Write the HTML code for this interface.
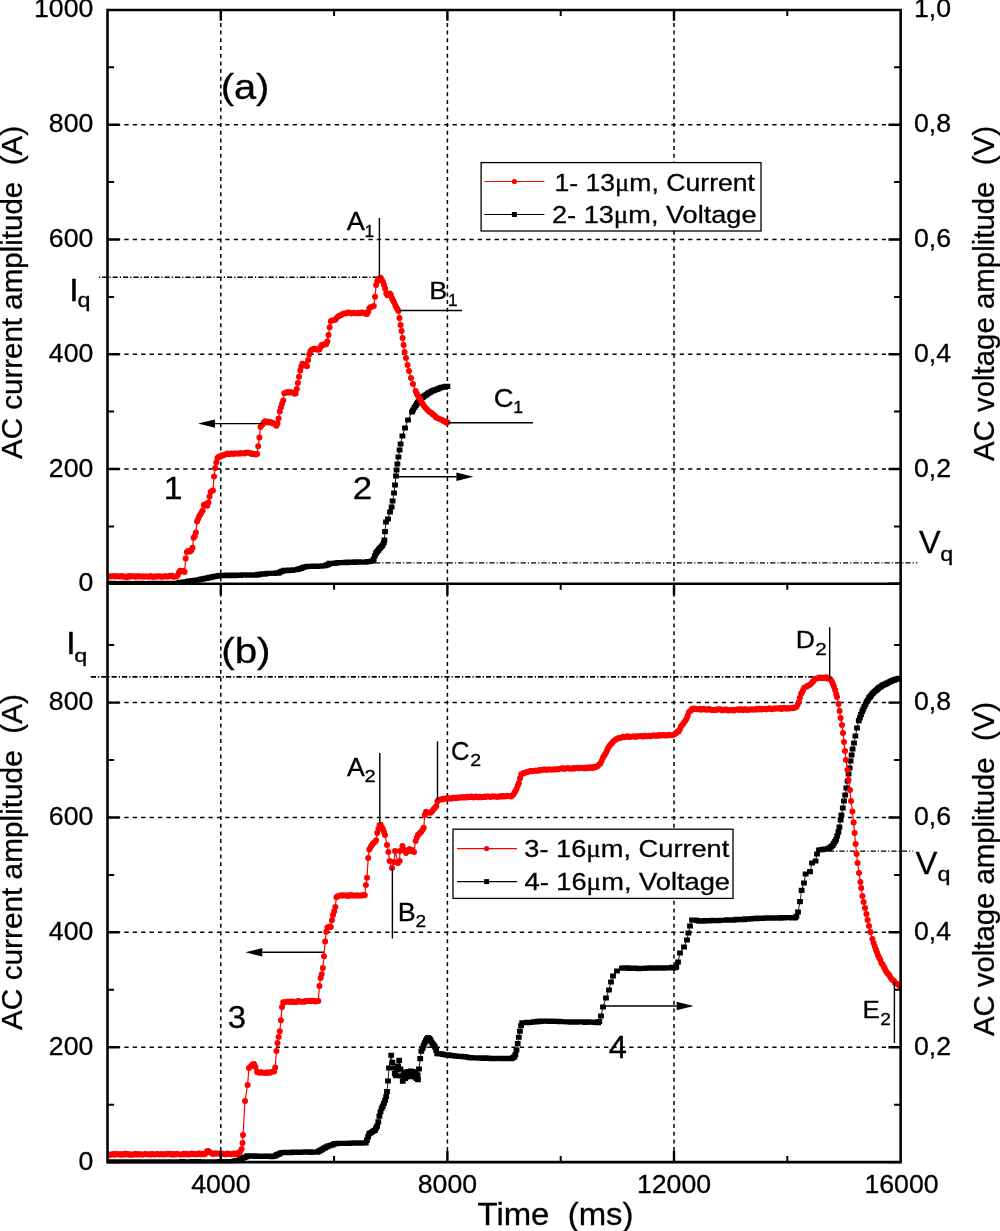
<!DOCTYPE html>
<html lang="en"><head><meta charset="utf-8"><title>AC current and voltage amplitude vs time</title>
<style>html,body{margin:0;padding:0;background:#fff}svg{display:block}text{font-family:"Liberation Sans",Arial,Helvetica,sans-serif;fill:#000;stroke:#000;stroke-width:.3px;white-space:pre}</style></head>
<body>
<svg width="1000" height="1231" viewBox="0 0 1000 1231">
<rect width="1000" height="1231" fill="#fff"/>
<path d="M107.5 469H900.65M107.5 1047.2H900.65M107.5 354.3H900.65M107.5 932.3H900.65M107.5 239.5H900.65M107.5 817.5H900.65M107.5 124.7H900.65M107.5 702.6H900.65" stroke="#000" stroke-width="1.5" stroke-dasharray="4.3 4.115" fill="none"/>
<path d="M220.8 9.95V1162.1M447.4 9.95V1162.1M674 9.95V1162.1" stroke="#000" stroke-width="1.5" stroke-dasharray="4 3.7" stroke-dashoffset="2.45" fill="none"/>
<path d="M97 277.2H378" stroke="#000" stroke-dasharray="5.2 2 1.2 2" fill="none" stroke-width="1.6" stroke-dashoffset="5.2"/>
<path d="M375 562.8H917.3" stroke="#000" stroke-dasharray="5.2 2 1.2 2" fill="none" stroke-width="1.25"/>
<path d="M90.8 676.9H819" stroke="#000" stroke-dasharray="5.2 2 1.2 2" fill="none" stroke-width="1.6"/>
<path d="M829 851.1H913" stroke="#000" stroke-dasharray="5.2 2 1.2 2" fill="none" stroke-width="1.25"/>
<clipPath id="ca"><rect x="107.5" y="9.95" width="794.35" height="575.0999999999999"/></clipPath><clipPath id="cb"><rect x="107.5" y="583.8" width="794.35" height="579.55"/></clipPath>
<g clip-path="url(#ca)">
<path d="M107.4 583.7 L108.5 583.8 L109.7 583.4 L110.8 583.6 L111.9 583.5 L113.1 583.4 L114.2 583.5 L115.3 583.6 L116.5 583.6 L117.6 583.7 L118.7 583.6 L119.9 583.8 L121 583.5 L122.1 583.9 L123.3 583.4 L124.4 583.8 L125.5 583.6 L126.7 583.7 L127.8 583.4 L128.9 583.5 L130.1 583.8 L131.2 583.9 L132.3 583.5 L133.5 583.7 L134.6 583.8 L135.7 583.9 L136.9 583.4 L138 583.3 L139.1 583.4 L140.3 583.8 L141.4 583.4 L142.5 583.5 L143.7 583.9 L144.8 583.6 L145.9 583.7 L147.1 583.5 L148.2 583.7 L149.3 583.8 L150.5 583.3 L151.6 583.7 L152.7 583.9 L153.9 583.7 L155 583.4 L156.1 583.7 L157.3 583.3 L158.4 583.5 L159.5 583.8 L160.7 583.4 L161.8 583.4 L162.9 583.3 L164.1 583.2 L165.2 583.6 L166.3 583.4 L167.5 583.4 L168.6 583.5 L169.7 583.2 L170.9 583.6 L172 583.3 L173.1 583.6 L174.3 583.6 L175.4 583.2 L176.5 583.2 L177.7 583.2 L178.8 582.8 L179.9 582.4 L181.1 582.5 L182.2 582.4 L183.3 582.1 L184.5 582.2 L185.6 581.8 L186.7 581.8 L187.9 581.2 L189 581 L190.1 581.2 L191.3 580.8 L192.4 580.5 L193.5 580.8 L194.7 580.2 L195.8 580.3 L196.9 580.1 L198.1 580 L199.2 579.7 L200.3 579.6 L201.5 579.1 L202.6 578.8 L203.7 579 L204.9 578.4 L206 578.5 L207.1 578.1 L208.3 577.9 L209.4 577.3 L210.5 577.6 L211.7 577 L212.8 576.9 L213.9 576.6 L215.1 576.3 L216.2 576.5 L217.3 576 L218.5 575.5 L219.6 575.6 L220.7 575.4 L221.9 575.5 L223 575.7 L224.1 575.4 L225.3 575.7 L226.4 575.5 L227.5 575.1 L228.7 575.6 L229.8 575.5 L230.9 575.6 L232.1 575.1 L233.2 575.1 L234.3 575.6 L235.5 575.4 L236.6 575 L237.7 575.4 L238.9 575.4 L240 575.5 L241.1 575.3 L242.3 575 L243.4 574.9 L244.5 574.9 L245.7 574.9 L246.8 575 L247.9 575.3 L249.1 575.1 L250.2 575.1 L251.3 575.3 L252.5 574.8 L253.6 574.9 L254.7 575.1 L255.9 575.3 L257 574.9 L258.1 574.4 L259.3 574.6 L260.4 574.1 L261.5 574.3 L262.7 573.9 L263.8 574.1 L264.9 574 L266.1 573.8 L267.2 573.5 L268.3 573.3 L269.5 573.3 L270.6 573.2 L271.7 573.2 L272.9 573.2 L274 573.4 L275.1 573.2 L276.3 572.8 L277.4 572.8 L278.5 573.1 L279.7 572.3 L280.8 571.7 L281.9 571.2 L283.1 571 L284.2 570.3 L285.3 570.5 L286.5 570.7 L287.6 570.6 L288.7 570.1 L289.9 570.3 L291 570.3 L292.1 570.4 L293.3 569.9 L294.4 569.8 L295.5 569.8 L296.7 569.8 L297.8 569.4 L298.9 569 L300.1 568.5 L301.2 568.5 L302.3 567.8 L303.5 567.3 L304.6 567 L305.7 566.7 L306.9 566.6 L308 566.3 L309.1 566.2 L310.3 566.3 L311.4 566.4 L312.5 566.1 L313.7 566.4 L314.8 566 L315.9 566.1 L317.1 566.4 L318.2 566 L319.3 566.2 L320.5 566.1 L321.6 566.3 L322.7 565.9 L323.9 565.7 L325 565.7 L326.1 565.3 L327.3 564.9 L328.4 564.4 L329.5 563.4 L330.7 563.3 L331.8 563.4 L332.9 563.5 L334.1 563.4 L335.2 563 L336.3 563.1 L337.5 562.8 L338.6 562.6 L339.7 562.5 L340.9 562.5 L342 562.5 L343.1 562.7 L344.3 562.7 L345.4 562.3 L346.5 562.6 L347.7 562.1 L348.8 562.1 L349.9 562.1 L351.1 562.3 L352.2 562 L353.3 562.5 L354.5 562.4 L355.6 561.9 L356.7 562 L357.9 562 L359 561.9 L360.1 562.3 L361.3 562 L362.4 562.3 L363.5 562.1 L364.7 562.2 L365.8 562 L366.9 561.9 L368.1 561.5 L369.2 561.5 L370.3 561.5 L371.5 561 L372.6 561 L373.7 559.1 L374.9 555.8 L376 553.1 L377.1 551.6 L378.3 550.4 L379.4 548.6 L380.5 547.7 L381.7 546.2 L382.8 544.7 L383.9 542.5 L384.4 540 L385 531.6 L386 522 L388 519 L390 512 L391.6 507 L392.6 501 L394 493 L395 485 L396 476 L396.6 470 L397.4 464 L398.4 457 L399.6 450 L400.6 444 L402.4 436 L405 428 L408 420 L412 412 L413 410 L414.5 407.5 L415.7 405.8 L416.8 403.9 L417.9 402.4 L419.1 401 L420.2 399.6 L421.3 398.6 L422.5 397.4 L423.6 396.6 L424.7 395.8 L425.9 395.1 L427 394.2 L428.1 393.3 L429.3 392.6 L430.4 392.2 L431.5 391.3 L432.7 390.9 L433.8 390.4 L434.9 390 L436.1 389.5 L437.2 389.2 L438.3 388.7 L439.5 388.2 L440.6 387.8 L441.7 387.3 L442.9 387.3 L444 386.8 L445.1 387.1 L446.3 386.3 L447.4 386.4" fill="none" stroke="#000" stroke-width="0.9" stroke-linejoin="round"/>
<path d="M104.5 583.7h5.8M105.6 583.8h5.8M106.8 583.4h5.8M107.9 583.6h5.8M109 583.5h5.8M110.2 583.4h5.8M111.3 583.5h5.8M112.4 583.6h5.8M113.6 583.6h5.8M114.7 583.7h5.8M115.8 583.6h5.8M117 583.8h5.8M118.1 583.5h5.8M119.2 583.9h5.8M120.4 583.4h5.8M121.5 583.8h5.8M122.6 583.6h5.8M123.8 583.7h5.8M124.9 583.4h5.8M126 583.5h5.8M127.2 583.8h5.8M128.3 583.9h5.8M129.4 583.5h5.8M130.6 583.7h5.8M131.7 583.8h5.8M132.8 583.9h5.8M134 583.4h5.8M135.1 583.3h5.8M136.2 583.4h5.8M137.4 583.8h5.8M138.5 583.4h5.8M139.6 583.5h5.8M140.8 583.9h5.8M141.9 583.6h5.8M143 583.7h5.8M144.2 583.5h5.8M145.3 583.7h5.8M146.4 583.8h5.8M147.6 583.3h5.8M148.7 583.7h5.8M149.8 583.9h5.8M151 583.7h5.8M152.1 583.4h5.8M153.2 583.7h5.8M154.4 583.3h5.8M155.5 583.5h5.8M156.6 583.8h5.8M157.8 583.4h5.8M158.9 583.4h5.8M160 583.3h5.8M161.2 583.2h5.8M162.3 583.6h5.8M163.4 583.4h5.8M164.6 583.4h5.8M165.7 583.5h5.8M166.8 583.2h5.8M168 583.6h5.8M169.1 583.3h5.8M170.2 583.6h5.8M171.4 583.6h5.8M172.5 583.2h5.8M173.6 583.2h5.8M174.8 583.2h5.8M175.9 582.8h5.8M177 582.4h5.8M178.2 582.5h5.8M179.3 582.4h5.8M180.4 582.1h5.8M181.6 582.2h5.8M182.7 581.8h5.8M183.8 581.8h5.8M185 581.2h5.8M186.1 581h5.8M187.2 581.2h5.8M188.4 580.8h5.8M189.5 580.5h5.8M190.6 580.8h5.8M191.8 580.2h5.8M192.9 580.3h5.8M194 580.1h5.8M195.2 580h5.8M196.3 579.7h5.8M197.4 579.6h5.8M198.6 579.1h5.8M199.7 578.8h5.8M200.8 579h5.8M202 578.4h5.8M203.1 578.5h5.8M204.2 578.1h5.8M205.4 577.9h5.8M206.5 577.3h5.8M207.6 577.6h5.8M208.8 577h5.8M209.9 576.9h5.8M211 576.6h5.8M212.2 576.3h5.8M213.3 576.5h5.8M214.4 576h5.8M215.6 575.5h5.8M216.7 575.6h5.8M217.8 575.4h5.8M219 575.5h5.8M220.1 575.7h5.8M221.2 575.4h5.8M222.4 575.7h5.8M223.5 575.5h5.8M224.6 575.1h5.8M225.8 575.6h5.8M226.9 575.5h5.8M228 575.6h5.8M229.2 575.1h5.8M230.3 575.1h5.8M231.4 575.6h5.8M232.6 575.4h5.8M233.7 575h5.8M234.8 575.4h5.8M236 575.4h5.8M237.1 575.5h5.8M238.2 575.3h5.8M239.4 575h5.8M240.5 574.9h5.8M241.6 574.9h5.8M242.8 574.9h5.8M243.9 575h5.8M245 575.3h5.8M246.2 575.1h5.8M247.3 575.1h5.8M248.4 575.3h5.8M249.6 574.8h5.8M250.7 574.9h5.8M251.8 575.1h5.8M253 575.3h5.8M254.1 574.9h5.8M255.2 574.4h5.8M256.4 574.6h5.8M257.5 574.1h5.8M258.6 574.3h5.8M259.8 573.9h5.8M260.9 574.1h5.8M262 574h5.8M263.2 573.8h5.8M264.3 573.5h5.8M265.4 573.3h5.8M266.6 573.3h5.8M267.7 573.2h5.8M268.8 573.2h5.8M270 573.2h5.8M271.1 573.4h5.8M272.2 573.2h5.8M273.4 572.8h5.8M274.5 572.8h5.8M275.6 573.1h5.8M276.8 572.3h5.8M277.9 571.7h5.8M279 571.2h5.8M280.2 571h5.8M281.3 570.3h5.8M282.4 570.5h5.8M283.6 570.7h5.8M284.7 570.6h5.8M285.8 570.1h5.8M287 570.3h5.8M288.1 570.3h5.8M289.2 570.4h5.8M290.4 569.9h5.8M291.5 569.8h5.8M292.6 569.8h5.8M293.8 569.8h5.8M294.9 569.4h5.8M296 569h5.8M297.2 568.5h5.8M298.3 568.5h5.8M299.4 567.8h5.8M300.6 567.3h5.8M301.7 567h5.8M302.8 566.7h5.8M304 566.6h5.8M305.1 566.3h5.8M306.2 566.2h5.8M307.4 566.3h5.8M308.5 566.4h5.8M309.6 566.1h5.8M310.8 566.4h5.8M311.9 566h5.8M313 566.1h5.8M314.2 566.4h5.8M315.3 566h5.8M316.4 566.2h5.8M317.6 566.1h5.8M318.7 566.3h5.8M319.8 565.9h5.8M321 565.7h5.8M322.1 565.7h5.8M323.2 565.3h5.8M324.4 564.9h5.8M325.5 564.4h5.8M326.6 563.4h5.8M327.8 563.3h5.8M328.9 563.4h5.8M330 563.5h5.8M331.2 563.4h5.8M332.3 563h5.8M333.4 563.1h5.8M334.6 562.8h5.8M335.7 562.6h5.8M336.8 562.5h5.8M338 562.5h5.8M339.1 562.5h5.8M340.2 562.7h5.8M341.4 562.7h5.8M342.5 562.3h5.8M343.6 562.6h5.8M344.8 562.1h5.8M345.9 562.1h5.8M347 562.1h5.8M348.2 562.3h5.8M349.3 562h5.8M350.4 562.5h5.8M351.6 562.4h5.8M352.7 561.9h5.8M353.8 562h5.8M355 562h5.8M356.1 561.9h5.8M357.2 562.3h5.8M358.4 562h5.8M359.5 562.3h5.8M360.6 562.1h5.8M361.8 562.2h5.8M362.9 562h5.8M364 561.9h5.8M365.2 561.5h5.8M366.3 561.5h5.8M367.4 561.5h5.8M368.6 561h5.8M369.7 561h5.8M370.8 559.1h5.8M372 555.8h5.8M373.1 553.1h5.8M374.2 551.6h5.8M375.4 550.4h5.8M376.5 548.6h5.8M377.6 547.7h5.8M378.8 546.2h5.8M379.9 544.7h5.8M381 542.5h5.8M381.5 540h5.8M382.1 531.6h5.8M383.1 522h5.8M385.1 519h5.8M387.1 512h5.8M388.7 507h5.8M389.7 501h5.8M391.1 493h5.8M392.1 485h5.8M393.1 476h5.8M393.7 470h5.8M394.5 464h5.8M395.5 457h5.8M396.7 450h5.8M397.7 444h5.8M399.5 436h5.8M402.1 428h5.8M405.1 420h5.8M409.1 412h5.8M410.1 410h5.8M411.6 407.5h5.8M412.8 405.8h5.8M413.9 403.9h5.8M415 402.4h5.8M416.2 401h5.8M417.3 399.6h5.8M418.4 398.6h5.8M419.6 397.4h5.8M420.7 396.6h5.8M421.8 395.8h5.8M423 395.1h5.8M424.1 394.2h5.8M425.2 393.3h5.8M426.4 392.6h5.8M427.5 392.2h5.8M428.6 391.3h5.8M429.8 390.9h5.8M430.9 390.4h5.8M432 390h5.8M433.2 389.5h5.8M434.3 389.2h5.8M435.4 388.7h5.8M436.6 388.2h5.8M437.7 387.8h5.8M438.8 387.3h5.8M440 387.3h5.8M441.1 386.8h5.8M442.2 387.1h5.8M443.4 386.3h5.8M444.5 386.4h5.8" fill="none" stroke="#000" stroke-width="5.1" stroke-linecap="butt"/>
<path d="M107.5 576.3 L108.6 575.9 L109.8 576.5 L110.9 576.4 L112 576.3 L113.2 576.3 L114.3 576.1 L115.4 576.6 L116.6 576.3 L117.7 576.2 L118.8 576.6 L120 576.5 L121.1 576.1 L122.2 576.5 L123.4 576.2 L124.5 576.8 L125.6 576.9 L126.8 576.5 L127.9 576.9 L129 576.1 L130.2 576.5 L131.3 576.1 L132.4 576.5 L133.6 576.2 L134.7 576.2 L135.8 576.7 L137 576.3 L138.1 576.2 L139.2 576.3 L140.4 576.4 L141.5 576.6 L142.6 576.3 L143.8 576.7 L144.9 576.5 L146 576.5 L147.2 576.4 L148.3 576.8 L149.4 576.6 L150.6 576.1 L151.7 576.7 L152.8 576.9 L154 576.4 L155.1 576.8 L156.2 576.3 L157.4 576.5 L158.5 576.3 L159.6 576.3 L160.8 576.7 L161.9 576.4 L163 576.8 L164.2 576.4 L165.3 575.9 L166.4 576.2 L167.6 576.7 L168.7 576.2 L169.8 575.8 L171 576 L172.1 575.8 L173.2 576.7 L174.4 576.7 L175.5 576.5 L176.6 576.3 L177.8 575.1 L178.9 572.6 L180 570.8 L181.2 571.2 L182.3 571.1 L183.4 571 L184.6 572 L185.7 558.4 L186.8 552 L188 551.1 L189.1 551.5 L190.2 551.5 L191.4 550.3 L192.5 547.8 L193.6 537.8 L194.8 536.3 L195.9 532.4 L197 521.5 L198.2 518.8 L199.3 515.9 L200.4 514.4 L201.6 512.3 L202.7 510.5 L203.8 504.9 L205 504.2 L206.1 504.9 L207.2 505.8 L208.4 502.6 L209.5 496.4 L210.6 491.9 L211.8 491 L212.9 490.6 L214 476.6 L215.2 468.1 L216.3 462.4 L217.4 457.9 L218.6 456.8 L219.7 456.9 L220.8 456.3 L222 455.2 L223.1 455.5 L224.2 455 L225.4 454.6 L226.5 454 L227.6 453.6 L228.8 454.3 L229.9 453.9 L231 453.6 L232.2 453.5 L233.3 454.1 L234.4 453.5 L235.6 453.6 L236.7 453.6 L237.8 453.8 L239 453.5 L240.1 453 L241.2 453.4 L242.4 453.2 L243.5 453.3 L244.6 453.4 L245.8 452.8 L246.9 452.7 L248 452.6 L249.2 453 L250.3 453 L251.4 453.9 L252.6 453.8 L253.7 454 L254.8 454.1 L256 454.6 L257.1 454 L258.2 446.2 L259.4 437.6 L260.5 427 L261.6 425.3 L262.8 424.3 L263.9 422.3 L265 421.3 L266.2 421.9 L267.3 421.5 L268.4 422.4 L269.6 421.8 L270.7 422.5 L271.8 422.5 L273 423.4 L274.1 423.4 L275.2 424.5 L276.4 425.7 L277.5 423.6 L278.6 418.5 L279.8 411.5 L280.9 407.5 L282 404 L283.2 400.5 L284.3 393.2 L285.4 392.7 L286.6 392.8 L287.7 392.1 L288.8 392.6 L290 391.9 L291.1 392.4 L292.2 392.4 L293.4 393 L294.5 393.7 L295.6 393.4 L296.8 389.1 L297.9 383.1 L299 376.7 L300.2 370.4 L301.3 366.5 L302.4 363.7 L303.6 364.3 L304.7 365 L305.8 365.7 L307 366.3 L308.1 360 L309.2 354.4 L310.4 351.2 L311.5 349.9 L312.6 349.3 L313.8 348.8 L314.9 349 L316 349 L317.2 349.8 L318.3 349.7 L319.4 349.5 L320.6 346.9 L321.7 345 L322.8 345.3 L324 344.2 L325.1 344.5 L326.2 343.9 L327.4 341.6 L328.5 335.1 L329.6 327.3 L330.8 321.3 L331.9 320.4 L333 320.2 L334.2 320 L335.3 319.7 L336.4 318.3 L337.6 316.9 L338.7 316.2 L339.8 315.6 L341 315.2 L342.1 314.3 L343.2 313.8 L344.4 313.4 L345.5 313.4 L346.6 313.3 L347.8 312.6 L348.9 312.8 L350 312.7 L351.2 313.4 L352.3 313.3 L353.4 312.8 L354.6 313.1 L355.7 313.3 L356.8 313.3 L358 312.7 L359.1 313.2 L360.2 313.3 L361.4 312.5 L362.5 312.6 L363.6 312.9 L364.8 312.9 L365.9 313.9 L367 314.1 L368.2 311.8 L369.3 308.2 L370.4 307.3 L371.6 306.7 L372.7 306.6 L373.8 306 L375 296.8 L376.1 284.9 L377.2 281.2 L378.4 279.2 L379.5 278.4 L380.6 277.8 L381.8 279.8 L382.9 281.8 L384 284.9 L385.2 288.8 L386.3 293.4 L387.4 295.3 L388.6 294.7 L389.7 293.6 L390.8 294.7 L392 298.2 L393.1 300.4 L394.2 302.6 L395.4 305.6 L396.5 307.6 L397.6 309.4 L398.4 311 L399.4 318 L400.6 325 L401.6 331 L402.6 338 L403.6 345 L404.6 352 L406 358 L407.6 365 L409 371 L411 378 L413 384 L415.6 391 L416.9 393.7 L418 396.1 L419.2 398.3 L420.3 399.6 L421.4 402.1 L422.6 403.8 L423.7 405.4 L424.8 406.9 L426 408.2 L427.1 409.5 L428.2 410.7 L429.4 411.7 L430.5 412.5 L431.6 412.9 L432.8 414.4 L433.9 415.1 L435 415.9 L436.2 417.5 L437.3 418.1 L438.4 418.4 L439.6 419 L440.7 419.6 L441.8 420.1 L443 420.7 L444.1 421.2 L445.2 421.3 L446.4 422.7 L447.5 422.3" fill="none" stroke="#f00" stroke-width="1.2" stroke-linejoin="round"/>
<path d="M107.5 576.3h.01M108.6 575.9h.01M109.8 576.5h.01M110.9 576.4h.01M112 576.3h.01M113.2 576.3h.01M114.3 576.1h.01M115.4 576.6h.01M116.6 576.3h.01M117.7 576.2h.01M118.8 576.6h.01M120 576.5h.01M121.1 576.1h.01M122.2 576.5h.01M123.4 576.2h.01M124.5 576.8h.01M125.6 576.9h.01M126.8 576.5h.01M127.9 576.9h.01M129 576.1h.01M130.2 576.5h.01M131.3 576.1h.01M132.4 576.5h.01M133.6 576.2h.01M134.7 576.2h.01M135.8 576.7h.01M137 576.3h.01M138.1 576.2h.01M139.2 576.3h.01M140.4 576.4h.01M141.5 576.6h.01M142.6 576.3h.01M143.8 576.7h.01M144.9 576.5h.01M146 576.5h.01M147.2 576.4h.01M148.3 576.8h.01M149.4 576.6h.01M150.6 576.1h.01M151.7 576.7h.01M152.8 576.9h.01M154 576.4h.01M155.1 576.8h.01M156.2 576.3h.01M157.4 576.5h.01M158.5 576.3h.01M159.6 576.3h.01M160.8 576.7h.01M161.9 576.4h.01M163 576.8h.01M164.2 576.4h.01M165.3 575.9h.01M166.4 576.2h.01M167.6 576.7h.01M168.7 576.2h.01M169.8 575.8h.01M171 576h.01M172.1 575.8h.01M173.2 576.7h.01M174.4 576.7h.01M175.5 576.5h.01M176.6 576.3h.01M177.8 575.1h.01M178.9 572.6h.01M180 570.8h.01M181.2 571.2h.01M182.3 571.1h.01M183.4 571h.01M184.6 572h.01M185.7 558.4h.01M186.8 552h.01M188 551.1h.01M189.1 551.5h.01M190.2 551.5h.01M191.4 550.3h.01M192.5 547.8h.01M193.6 537.8h.01M194.8 536.3h.01M195.9 532.4h.01M197 521.5h.01M198.2 518.8h.01M199.3 515.9h.01M200.4 514.4h.01M201.6 512.3h.01M202.7 510.5h.01M203.8 504.9h.01M205 504.2h.01M206.1 504.9h.01M207.2 505.8h.01M208.4 502.6h.01M209.5 496.4h.01M210.6 491.9h.01M211.8 491h.01M212.9 490.6h.01M214 476.6h.01M215.2 468.1h.01M216.3 462.4h.01M217.4 457.9h.01M218.6 456.8h.01M219.7 456.9h.01M220.8 456.3h.01M222 455.2h.01M223.1 455.5h.01M224.2 455h.01M225.4 454.6h.01M226.5 454h.01M227.6 453.6h.01M228.8 454.3h.01M229.9 453.9h.01M231 453.6h.01M232.2 453.5h.01M233.3 454.1h.01M234.4 453.5h.01M235.6 453.6h.01M236.7 453.6h.01M237.8 453.8h.01M239 453.5h.01M240.1 453h.01M241.2 453.4h.01M242.4 453.2h.01M243.5 453.3h.01M244.6 453.4h.01M245.8 452.8h.01M246.9 452.7h.01M248 452.6h.01M249.2 453h.01M250.3 453h.01M251.4 453.9h.01M252.6 453.8h.01M253.7 454h.01M254.8 454.1h.01M256 454.6h.01M257.1 454h.01M258.2 446.2h.01M259.4 437.6h.01M260.5 427h.01M261.6 425.3h.01M262.8 424.3h.01M263.9 422.3h.01M265 421.3h.01M266.2 421.9h.01M267.3 421.5h.01M268.4 422.4h.01M269.6 421.8h.01M270.7 422.5h.01M271.8 422.5h.01M273 423.4h.01M274.1 423.4h.01M275.2 424.5h.01M276.4 425.7h.01M277.5 423.6h.01M278.6 418.5h.01M279.8 411.5h.01M280.9 407.5h.01M282 404h.01M283.2 400.5h.01M284.3 393.2h.01M285.4 392.7h.01M286.6 392.8h.01M287.7 392.1h.01M288.8 392.6h.01M290 391.9h.01M291.1 392.4h.01M292.2 392.4h.01M293.4 393h.01M294.5 393.7h.01M295.6 393.4h.01M296.8 389.1h.01M297.9 383.1h.01M299 376.7h.01M300.2 370.4h.01M301.3 366.5h.01M302.4 363.7h.01M303.6 364.3h.01M304.7 365h.01M305.8 365.7h.01M307 366.3h.01M308.1 360h.01M309.2 354.4h.01M310.4 351.2h.01M311.5 349.9h.01M312.6 349.3h.01M313.8 348.8h.01M314.9 349h.01M316 349h.01M317.2 349.8h.01M318.3 349.7h.01M319.4 349.5h.01M320.6 346.9h.01M321.7 345h.01M322.8 345.3h.01M324 344.2h.01M325.1 344.5h.01M326.2 343.9h.01M327.4 341.6h.01M328.5 335.1h.01M329.6 327.3h.01M330.8 321.3h.01M331.9 320.4h.01M333 320.2h.01M334.2 320h.01M335.3 319.7h.01M336.4 318.3h.01M337.6 316.9h.01M338.7 316.2h.01M339.8 315.6h.01M341 315.2h.01M342.1 314.3h.01M343.2 313.8h.01M344.4 313.4h.01M345.5 313.4h.01M346.6 313.3h.01M347.8 312.6h.01M348.9 312.8h.01M350 312.7h.01M351.2 313.4h.01M352.3 313.3h.01M353.4 312.8h.01M354.6 313.1h.01M355.7 313.3h.01M356.8 313.3h.01M358 312.7h.01M359.1 313.2h.01M360.2 313.3h.01M361.4 312.5h.01M362.5 312.6h.01M363.6 312.9h.01M364.8 312.9h.01M365.9 313.9h.01M367 314.1h.01M368.2 311.8h.01M369.3 308.2h.01M370.4 307.3h.01M371.6 306.7h.01M372.7 306.6h.01M373.8 306h.01M375 296.8h.01M376.1 284.9h.01M377.2 281.2h.01M378.4 279.2h.01M379.5 278.4h.01M380.6 277.8h.01M381.8 279.8h.01M382.9 281.8h.01M384 284.9h.01M385.2 288.8h.01M386.3 293.4h.01M387.4 295.3h.01M388.6 294.7h.01M389.7 293.6h.01M390.8 294.7h.01M392 298.2h.01M393.1 300.4h.01M394.2 302.6h.01M395.4 305.6h.01M396.5 307.6h.01M397.6 309.4h.01M398.4 311h.01M399.4 318h.01M400.6 325h.01M401.6 331h.01M402.6 338h.01M403.6 345h.01M404.6 352h.01M406 358h.01M407.6 365h.01M409 371h.01M411 378h.01M413 384h.01M415.6 391h.01M416.9 393.7h.01M418 396.1h.01M419.2 398.3h.01M420.3 399.6h.01M421.4 402.1h.01M422.6 403.8h.01M423.7 405.4h.01M424.8 406.9h.01M426 408.2h.01M427.1 409.5h.01M428.2 410.7h.01M429.4 411.7h.01M430.5 412.5h.01M431.6 412.9h.01M432.8 414.4h.01M433.9 415.1h.01M435 415.9h.01M436.2 417.5h.01M437.3 418.1h.01M438.4 418.4h.01M439.6 419h.01M440.7 419.6h.01M441.8 420.1h.01M443 420.7h.01M444.1 421.2h.01M445.2 421.3h.01M446.4 422.7h.01M447.5 422.3h.01" fill="none" stroke="#f00" stroke-width="6.0" stroke-linecap="round"/>
</g>
<g clip-path="url(#cb)">
<path d="M107.4 1162 L108.5 1162.1 L109.7 1161.9 L110.8 1162 L111.9 1162.2 L113.1 1162.2 L114.2 1161.8 L115.3 1161.8 L116.5 1161.7 L117.6 1161.9 L118.7 1161.7 L119.9 1162 L121 1162.1 L122.1 1161.8 L123.3 1162.1 L124.4 1162 L125.5 1161.7 L126.7 1162 L127.8 1161.8 L128.9 1161.9 L130.1 1161.8 L131.2 1162.1 L132.3 1161.9 L133.5 1161.8 L134.6 1162 L135.7 1162.1 L136.9 1161.8 L138 1161.8 L139.1 1161.9 L140.3 1162.2 L141.4 1162.2 L142.5 1162 L143.7 1162.2 L144.8 1162.1 L145.9 1161.9 L147.1 1161.7 L148.2 1162 L149.3 1162 L150.5 1161.8 L151.6 1161.8 L152.7 1161.9 L153.9 1161.9 L155 1161.8 L156.1 1161.8 L157.3 1161.9 L158.4 1162.1 L159.5 1162 L160.7 1161.8 L161.8 1161.8 L162.9 1161.9 L164.1 1161.7 L165.2 1161.7 L166.3 1161.9 L167.5 1161.7 L168.6 1161.9 L169.7 1161.8 L170.9 1162 L172 1162 L173.1 1162 L174.3 1162 L175.4 1161.8 L176.5 1162 L177.7 1161.8 L178.8 1161.9 L179.9 1161.8 L181.1 1161.8 L182.2 1161.6 L183.3 1161.7 L184.5 1162.2 L185.6 1161.7 L186.7 1162 L187.9 1162 L189 1162 L190.1 1161.9 L191.3 1161.9 L192.4 1161.6 L193.5 1161.6 L194.7 1161.7 L195.8 1161.6 L196.9 1161.6 L198.1 1161.6 L199.2 1161.9 L200.3 1161.7 L201.5 1162.1 L202.6 1162 L203.7 1161.9 L204.9 1162 L206 1161.7 L207.1 1162.1 L208.3 1162 L209.4 1162 L210.5 1161.8 L211.7 1162 L212.8 1162 L213.9 1161.9 L215.1 1162.1 L216.2 1161.9 L217.3 1161.7 L218.5 1161.9 L219.6 1161.6 L220.7 1161.6 L221.9 1162 L223 1162 L224.1 1162.1 L225.3 1162 L226.4 1161.8 L227.5 1161.6 L228.7 1161.8 L229.8 1162.1 L230.9 1162 L232.1 1161.8 L233.2 1161.5 L234.3 1161.1 L235.5 1160.9 L236.6 1160.5 L237.7 1160.8 L238.9 1160.2 L240 1159.3 L241.1 1158.9 L242.3 1158.1 L243.4 1157.6 L244.5 1157.4 L245.7 1157 L246.8 1156.4 L247.9 1155.9 L249.1 1156.1 L250.2 1156.3 L251.3 1156 L252.5 1155.8 L253.6 1155.8 L254.7 1155.9 L255.9 1156.4 L257 1156.2 L258.1 1156.4 L259.3 1156 L260.4 1156 L261.5 1156.3 L262.7 1156.5 L263.8 1156.1 L264.9 1156 L266.1 1156.5 L267.2 1156.2 L268.3 1156.5 L269.5 1156.1 L270.6 1156.5 L271.7 1156.6 L272.9 1156.5 L274 1156.3 L275.1 1156 L276.3 1155.1 L277.4 1154.6 L278.5 1154.1 L279.7 1153.8 L280.8 1152.8 L281.9 1152.7 L283.1 1152.6 L284.2 1152.7 L285.3 1152.3 L286.5 1152.2 L287.6 1152.2 L288.7 1152.5 L289.9 1152.6 L291 1152.4 L292.1 1152.3 L293.3 1152.1 L294.4 1152.5 L295.5 1152.5 L296.7 1152 L297.8 1152.1 L298.9 1152.4 L300.1 1152.4 L301.2 1152.1 L302.3 1152 L303.5 1152.1 L304.6 1152.2 L305.7 1151.9 L306.9 1152.3 L308 1152.1 L309.1 1152.3 L310.3 1151.9 L311.4 1152.4 L312.5 1152.2 L313.7 1152 L314.8 1152.3 L315.9 1152.1 L317.1 1152.2 L318.2 1151.6 L319.3 1150.9 L320.5 1150.6 L321.6 1149.6 L322.7 1149.1 L323.9 1148.1 L325 1147.9 L326.1 1147 L327.3 1146.8 L328.4 1145.9 L329.5 1145.8 L330.7 1145.2 L331.8 1145.3 L332.9 1144.6 L334.1 1144 L335.2 1143.6 L336.3 1143.6 L337.5 1143.3 L338.6 1143.4 L339.7 1143.5 L340.9 1143.5 L342 1143.5 L343.1 1143.5 L344.3 1143.3 L345.4 1143.5 L346.5 1143.2 L347.7 1143.2 L348.8 1143.5 L349.9 1143.1 L351.1 1143.1 L352.2 1143.1 L353.3 1143.2 L354.5 1142.9 L355.6 1142.9 L356.7 1143.1 L357.9 1142.9 L359 1143.2 L360.1 1143.3 L361.3 1143.1 L362.4 1143.2 L363.5 1142.9 L364.7 1142.7 L365.8 1143 L366.9 1140.1 L368.1 1136.9 L369.2 1133.7 L370.3 1133 L371.5 1132.5 L372.6 1131.5 L373.7 1130.8 L374.9 1130.4 L376 1128.1 L377.1 1126.1 L378.3 1121.9 L379.4 1116.1 L380.5 1111.8 L381.7 1108.3 L382.8 1106.1 L383.9 1103.4 L385.1 1100.2 L386.2 1096.5 L387 1091.5 L388 1081 L389 1068 L391.2 1055.2 L392.4 1062.4 L393.5 1068 L394.8 1073.6 L395.8 1075.6 L397 1070 L398 1066 L399.2 1060.4 L400.4 1069 L401.6 1076 L402.8 1081.2 L404 1074 L405.1 1078.5 L406.2 1072 L407.4 1077 L408.5 1071.5 L409.6 1076.5 L410.8 1071 L411.9 1076 L413 1071.5 L414.2 1077 L415.3 1072.5 L416.4 1078.5 L417.6 1075 L418 1079.6 L419 1069 L420.2 1058.6 L421.3 1051.2 L422.5 1048.4 L423.6 1045.6 L424.7 1042.9 L425.9 1040.6 L427 1038.9 L428.1 1037.5 L429.3 1038.6 L430.4 1039.9 L431.5 1042 L432.7 1043.7 L433.8 1045.2 L434.9 1046.9 L436.1 1050.3 L437.2 1053.8 L438.3 1053.6 L439.5 1053.9 L440.6 1053.8 L441.7 1053.9 L442.9 1054.4 L444 1054.5 L445.1 1054.7 L446.3 1055 L447.4 1055.2 L448.5 1054.8 L449.7 1055.3 L450.8 1055.4 L451.9 1055.6 L453.1 1055.6 L454.2 1055.8 L455.3 1056.1 L456.5 1056 L457.6 1056.2 L458.7 1056.4 L459.9 1056.2 L461 1056.5 L462.1 1056.4 L463.3 1056.6 L464.4 1056.6 L465.5 1056.9 L466.7 1057 L467.8 1057.3 L468.9 1057.5 L470.1 1057.8 L471.2 1057.6 L472.3 1057.9 L473.5 1057.7 L474.6 1057.9 L475.7 1057.9 L476.9 1057.9 L478 1057.8 L479.1 1058.2 L480.3 1058.2 L481.4 1057.8 L482.5 1058.1 L483.7 1058.4 L484.8 1057.9 L485.9 1058.1 L487.1 1058.4 L488.2 1058.1 L489.3 1058.5 L490.5 1058.4 L491.6 1058.6 L492.7 1058.5 L493.9 1058.7 L495 1058.4 L496.1 1058.5 L497.3 1058.2 L498.4 1058.5 L499.5 1058.4 L500.7 1058.8 L501.8 1058.8 L502.9 1058.3 L504.1 1058.3 L505.2 1058.3 L506.3 1058.4 L507.5 1058.7 L508.6 1058.6 L509.7 1058.6 L510.9 1058.6 L512 1058.3 L513.1 1057.6 L514.3 1056.9 L515.4 1054.6 L516.5 1050 L517.7 1043.6 L518.8 1037.3 L519.9 1031.3 L521.1 1025.8 L522.2 1022.8 L523.3 1022.8 L524.5 1022.7 L525.6 1022.7 L526.7 1022.3 L527.9 1022.6 L529 1022.3 L530.1 1022.4 L531.3 1022.3 L532.4 1022.3 L533.5 1021.9 L534.7 1021.8 L535.8 1022 L536.9 1021.6 L538.1 1021.4 L539.2 1021.7 L540.3 1021.1 L541.5 1021.5 L542.6 1021 L543.7 1021 L544.9 1021.3 L546 1021 L547.1 1021.2 L548.3 1021.1 L549.4 1021.5 L550.5 1021.4 L551.7 1021.3 L552.8 1021.1 L553.9 1021.3 L555.1 1021.4 L556.2 1021.3 L557.3 1021.5 L558.5 1021.4 L559.6 1021.6 L560.7 1021.6 L561.9 1021.7 L563 1021.8 L564.1 1021.8 L565.3 1021.7 L566.4 1021.7 L567.5 1022 L568.7 1021.7 L569.8 1021.9 L570.9 1022.1 L572.1 1022.1 L573.2 1021.9 L574.3 1021.8 L575.5 1022 L576.6 1022.1 L577.7 1022 L578.9 1021.9 L580 1022 L581.1 1021.8 L582.3 1021.9 L583.4 1021.9 L584.5 1022.2 L585.7 1022.4 L586.8 1021.9 L587.9 1021.9 L589.1 1022.3 L590.2 1022.1 L591.3 1022.2 L592.5 1022 L593.6 1022.1 L594.7 1022.4 L595.9 1022.4 L597 1022.6 L598.1 1022.7 L599.3 1021.5 L601 1016 L603 1007 L606 998 L609 990 L611 982 L613 976 L617 971 L621.9 968.2 L623.1 968 L624.2 967.8 L625.3 968.3 L626.5 968 L627.6 967.9 L628.7 968 L629.9 968.4 L631 968 L632.1 968.4 L633.3 968.4 L634.4 968 L635.5 968.3 L636.7 968.5 L637.8 968.3 L638.9 968.6 L640.1 968.3 L641.2 968.5 L642.3 968.2 L643.5 968.5 L644.6 968.5 L645.7 968.3 L646.9 968.1 L648 968.1 L649.1 968.3 L650.3 967.9 L651.4 968.2 L652.5 968 L653.7 968 L654.8 968 L655.9 968.2 L657.1 967.8 L658.2 967.8 L659.3 967.8 L660.5 967.7 L661.6 967.9 L662.7 968.1 L663.9 968.1 L665 967.8 L666.1 967.8 L667.3 968 L668.4 967.8 L669.5 967.8 L670.7 967.8 L671.8 967.4 L672.9 967.9 L674.1 967.4 L675.2 967.6 L676.3 967 L678 962 L680 953 L684 947 L687 940 L688.4 933 L690 926 L692 920 L693.3 920 L694.4 920 L695.6 920.2 L696.7 920.4 L697.8 920.6 L699 921 L700.1 921.1 L701.2 921.1 L702.4 921 L703.5 921.1 L704.6 920.6 L705.8 920.8 L706.9 920.5 L708 920.7 L709.2 920.9 L710.3 920.6 L711.4 920.5 L712.6 920.4 L713.7 920.5 L714.8 920.7 L716 920.7 L717.1 920.5 L718.2 920.7 L719.4 920.5 L720.5 920.2 L721.6 920.2 L722.8 920.3 L723.9 920.3 L725 920.2 L726.2 920.1 L727.3 919.8 L728.4 920.3 L729.6 919.8 L730.7 920.2 L731.8 919.7 L733 920.1 L734.1 919.7 L735.2 920 L736.4 919.4 L737.5 919.7 L738.6 919.5 L739.8 919.7 L740.9 919.6 L742 919.4 L743.2 919.5 L744.3 919.6 L745.4 918.9 L746.6 919.1 L747.7 919.1 L748.8 919 L750 918.7 L751.1 919 L752.2 918.5 L753.4 918.8 L754.5 918.5 L755.6 918.2 L756.8 918.6 L757.9 918.1 L759 918.5 L760.2 918.4 L761.3 918.5 L762.4 918.5 L763.6 918.2 L764.7 918 L765.8 918.1 L767 917.9 L768.1 918.2 L769.2 917.9 L770.4 917.9 L771.5 917.9 L772.6 918 L773.8 918.2 L774.9 918 L776 918 L777.2 917.7 L778.3 917.9 L779.4 917.8 L780.6 918.1 L781.7 917.6 L782.8 917.9 L784 918 L785.1 917.8 L786.2 917.5 L787.4 917.6 L788.5 917.6 L789.6 917.6 L790.8 917.6 L791.9 918 L793 917.8 L794.2 917.9 L795.3 917.7 L796.4 916.3 L798 912 L800 901.6 L801.6 890.4 L804 883 L805.6 874 L810 871.6 L812 863 L815.6 861 L817 854 L819 850 L821.4 849.6 L822.5 849.6 L823.6 849.3 L824.8 849.1 L825.9 849.2 L827 849.2 L828.2 848.6 L829.3 848.1 L830.4 847.3 L831.6 846.2 L832.7 845.4 L833.8 843.4 L835 841.5 L836.1 839.6 L837.2 836 L838.4 832.1 L839.4 827 L840.6 820 L841.4 815 L842.8 808 L844 801 L845.2 795 L846.4 788 L847.6 781 L848.6 774 L849.6 768 L850.6 761 L851.6 755 L852.6 749 L854 743 L855.4 736 L857 728 L858.8 720.6 L859.9 717.7 L861 714.6 L862.2 711.4 L863.3 709 L864.4 706.5 L865.6 704.1 L866.7 701.8 L867.8 700.2 L869 697.9 L870.1 696.9 L871.2 695.3 L872.4 693.7 L873.5 692.7 L874.6 691.5 L875.8 690.5 L876.9 689.7 L878 688.6 L879.2 687.4 L880.3 687.1 L881.4 686.1 L882.6 685.4 L883.7 684.6 L884.8 684.4 L886 683.9 L887.1 683.1 L888.2 682.8 L889.4 682 L890.5 681.5 L891.6 680.9 L892.8 680.4 L893.9 680.1 L895 679.6 L896.2 679.1 L897.3 679.1 L898.4 678.5 L899.6 678.2" fill="none" stroke="#000" stroke-width="0.9" stroke-linejoin="round"/>
<path d="M104.5 1162h5.8M105.6 1162.1h5.8M106.8 1161.9h5.8M107.9 1162h5.8M109 1162.2h5.8M110.2 1162.2h5.8M111.3 1161.8h5.8M112.4 1161.8h5.8M113.6 1161.7h5.8M114.7 1161.9h5.8M115.8 1161.7h5.8M117 1162h5.8M118.1 1162.1h5.8M119.2 1161.8h5.8M120.4 1162.1h5.8M121.5 1162h5.8M122.6 1161.7h5.8M123.8 1162h5.8M124.9 1161.8h5.8M126 1161.9h5.8M127.2 1161.8h5.8M128.3 1162.1h5.8M129.4 1161.9h5.8M130.6 1161.8h5.8M131.7 1162h5.8M132.8 1162.1h5.8M134 1161.8h5.8M135.1 1161.8h5.8M136.2 1161.9h5.8M137.4 1162.2h5.8M138.5 1162.2h5.8M139.6 1162h5.8M140.8 1162.2h5.8M141.9 1162.1h5.8M143 1161.9h5.8M144.2 1161.7h5.8M145.3 1162h5.8M146.4 1162h5.8M147.6 1161.8h5.8M148.7 1161.8h5.8M149.8 1161.9h5.8M151 1161.9h5.8M152.1 1161.8h5.8M153.2 1161.8h5.8M154.4 1161.9h5.8M155.5 1162.1h5.8M156.6 1162h5.8M157.8 1161.8h5.8M158.9 1161.8h5.8M160 1161.9h5.8M161.2 1161.7h5.8M162.3 1161.7h5.8M163.4 1161.9h5.8M164.6 1161.7h5.8M165.7 1161.9h5.8M166.8 1161.8h5.8M168 1162h5.8M169.1 1162h5.8M170.2 1162h5.8M171.4 1162h5.8M172.5 1161.8h5.8M173.6 1162h5.8M174.8 1161.8h5.8M175.9 1161.9h5.8M177 1161.8h5.8M178.2 1161.8h5.8M179.3 1161.6h5.8M180.4 1161.7h5.8M181.6 1162.2h5.8M182.7 1161.7h5.8M183.8 1162h5.8M185 1162h5.8M186.1 1162h5.8M187.2 1161.9h5.8M188.4 1161.9h5.8M189.5 1161.6h5.8M190.6 1161.6h5.8M191.8 1161.7h5.8M192.9 1161.6h5.8M194 1161.6h5.8M195.2 1161.6h5.8M196.3 1161.9h5.8M197.4 1161.7h5.8M198.6 1162.1h5.8M199.7 1162h5.8M200.8 1161.9h5.8M202 1162h5.8M203.1 1161.7h5.8M204.2 1162.1h5.8M205.4 1162h5.8M206.5 1162h5.8M207.6 1161.8h5.8M208.8 1162h5.8M209.9 1162h5.8M211 1161.9h5.8M212.2 1162.1h5.8M213.3 1161.9h5.8M214.4 1161.7h5.8M215.6 1161.9h5.8M216.7 1161.6h5.8M217.8 1161.6h5.8M219 1162h5.8M220.1 1162h5.8M221.2 1162.1h5.8M222.4 1162h5.8M223.5 1161.8h5.8M224.6 1161.6h5.8M225.8 1161.8h5.8M226.9 1162.1h5.8M228 1162h5.8M229.2 1161.8h5.8M230.3 1161.5h5.8M231.4 1161.1h5.8M232.6 1160.9h5.8M233.7 1160.5h5.8M234.8 1160.8h5.8M236 1160.2h5.8M237.1 1159.3h5.8M238.2 1158.9h5.8M239.4 1158.1h5.8M240.5 1157.6h5.8M241.6 1157.4h5.8M242.8 1157h5.8M243.9 1156.4h5.8M245 1155.9h5.8M246.2 1156.1h5.8M247.3 1156.3h5.8M248.4 1156h5.8M249.6 1155.8h5.8M250.7 1155.8h5.8M251.8 1155.9h5.8M253 1156.4h5.8M254.1 1156.2h5.8M255.2 1156.4h5.8M256.4 1156h5.8M257.5 1156h5.8M258.6 1156.3h5.8M259.8 1156.5h5.8M260.9 1156.1h5.8M262 1156h5.8M263.2 1156.5h5.8M264.3 1156.2h5.8M265.4 1156.5h5.8M266.6 1156.1h5.8M267.7 1156.5h5.8M268.8 1156.6h5.8M270 1156.5h5.8M271.1 1156.3h5.8M272.2 1156h5.8M273.4 1155.1h5.8M274.5 1154.6h5.8M275.6 1154.1h5.8M276.8 1153.8h5.8M277.9 1152.8h5.8M279 1152.7h5.8M280.2 1152.6h5.8M281.3 1152.7h5.8M282.4 1152.3h5.8M283.6 1152.2h5.8M284.7 1152.2h5.8M285.8 1152.5h5.8M287 1152.6h5.8M288.1 1152.4h5.8M289.2 1152.3h5.8M290.4 1152.1h5.8M291.5 1152.5h5.8M292.6 1152.5h5.8M293.8 1152h5.8M294.9 1152.1h5.8M296 1152.4h5.8M297.2 1152.4h5.8M298.3 1152.1h5.8M299.4 1152h5.8M300.6 1152.1h5.8M301.7 1152.2h5.8M302.8 1151.9h5.8M304 1152.3h5.8M305.1 1152.1h5.8M306.2 1152.3h5.8M307.4 1151.9h5.8M308.5 1152.4h5.8M309.6 1152.2h5.8M310.8 1152h5.8M311.9 1152.3h5.8M313 1152.1h5.8M314.2 1152.2h5.8M315.3 1151.6h5.8M316.4 1150.9h5.8M317.6 1150.6h5.8M318.7 1149.6h5.8M319.8 1149.1h5.8M321 1148.1h5.8M322.1 1147.9h5.8M323.2 1147h5.8M324.4 1146.8h5.8M325.5 1145.9h5.8M326.6 1145.8h5.8M327.8 1145.2h5.8M328.9 1145.3h5.8M330 1144.6h5.8M331.2 1144h5.8M332.3 1143.6h5.8M333.4 1143.6h5.8M334.6 1143.3h5.8M335.7 1143.4h5.8M336.8 1143.5h5.8M338 1143.5h5.8M339.1 1143.5h5.8M340.2 1143.5h5.8M341.4 1143.3h5.8M342.5 1143.5h5.8M343.6 1143.2h5.8M344.8 1143.2h5.8M345.9 1143.5h5.8M347 1143.1h5.8M348.2 1143.1h5.8M349.3 1143.1h5.8M350.4 1143.2h5.8M351.6 1142.9h5.8M352.7 1142.9h5.8M353.8 1143.1h5.8M355 1142.9h5.8M356.1 1143.2h5.8M357.2 1143.3h5.8M358.4 1143.1h5.8M359.5 1143.2h5.8M360.6 1142.9h5.8M361.8 1142.7h5.8M362.9 1143h5.8M364 1140.1h5.8M365.2 1136.9h5.8M366.3 1133.7h5.8M367.4 1133h5.8M368.6 1132.5h5.8M369.7 1131.5h5.8M370.8 1130.8h5.8M372 1130.4h5.8M373.1 1128.1h5.8M374.2 1126.1h5.8M375.4 1121.9h5.8M376.5 1116.1h5.8M377.6 1111.8h5.8M378.8 1108.3h5.8M379.9 1106.1h5.8M381 1103.4h5.8M382.2 1100.2h5.8M383.3 1096.5h5.8M384.1 1091.5h5.8M385.1 1081h5.8M386.1 1068h5.8M388.3 1055.2h5.8M389.5 1062.4h5.8M390.6 1068h5.8M391.9 1073.6h5.8M392.9 1075.6h5.8M394.1 1070h5.8M395.1 1066h5.8M396.3 1060.4h5.8M397.5 1069h5.8M398.7 1076h5.8M399.9 1081.2h5.8M401.1 1074h5.8M402.2 1078.5h5.8M403.3 1072h5.8M404.5 1077h5.8M405.6 1071.5h5.8M406.7 1076.5h5.8M407.9 1071h5.8M409 1076h5.8M410.1 1071.5h5.8M411.3 1077h5.8M412.4 1072.5h5.8M413.5 1078.5h5.8M414.7 1075h5.8M415.1 1079.6h5.8M416.1 1069h5.8M417.3 1058.6h5.8M418.4 1051.2h5.8M419.6 1048.4h5.8M420.7 1045.6h5.8M421.8 1042.9h5.8M423 1040.6h5.8M424.1 1038.9h5.8M425.2 1037.5h5.8M426.4 1038.6h5.8M427.5 1039.9h5.8M428.6 1042h5.8M429.8 1043.7h5.8M430.9 1045.2h5.8M432 1046.9h5.8M433.2 1050.3h5.8M434.3 1053.8h5.8M435.4 1053.6h5.8M436.6 1053.9h5.8M437.7 1053.8h5.8M438.8 1053.9h5.8M440 1054.4h5.8M441.1 1054.5h5.8M442.2 1054.7h5.8M443.4 1055h5.8M444.5 1055.2h5.8M445.6 1054.8h5.8M446.8 1055.3h5.8M447.9 1055.4h5.8M449 1055.6h5.8M450.2 1055.6h5.8M451.3 1055.8h5.8M452.4 1056.1h5.8M453.6 1056h5.8M454.7 1056.2h5.8M455.8 1056.4h5.8M457 1056.2h5.8M458.1 1056.5h5.8M459.2 1056.4h5.8M460.4 1056.6h5.8M461.5 1056.6h5.8M462.6 1056.9h5.8M463.8 1057h5.8M464.9 1057.3h5.8M466 1057.5h5.8M467.2 1057.8h5.8M468.3 1057.6h5.8M469.4 1057.9h5.8M470.6 1057.7h5.8M471.7 1057.9h5.8M472.8 1057.9h5.8M474 1057.9h5.8M475.1 1057.8h5.8M476.2 1058.2h5.8M477.4 1058.2h5.8M478.5 1057.8h5.8M479.6 1058.1h5.8M480.8 1058.4h5.8M481.9 1057.9h5.8M483 1058.1h5.8M484.2 1058.4h5.8M485.3 1058.1h5.8M486.4 1058.5h5.8M487.6 1058.4h5.8M488.7 1058.6h5.8M489.8 1058.5h5.8M491 1058.7h5.8M492.1 1058.4h5.8M493.2 1058.5h5.8M494.4 1058.2h5.8M495.5 1058.5h5.8M496.6 1058.4h5.8M497.8 1058.8h5.8M498.9 1058.8h5.8M500 1058.3h5.8M501.2 1058.3h5.8M502.3 1058.3h5.8M503.4 1058.4h5.8M504.6 1058.7h5.8M505.7 1058.6h5.8M506.8 1058.6h5.8M508 1058.6h5.8M509.1 1058.3h5.8M510.2 1057.6h5.8M511.4 1056.9h5.8M512.5 1054.6h5.8M513.6 1050h5.8M514.8 1043.6h5.8M515.9 1037.3h5.8M517 1031.3h5.8M518.2 1025.8h5.8M519.3 1022.8h5.8M520.4 1022.8h5.8M521.6 1022.7h5.8M522.7 1022.7h5.8M523.8 1022.3h5.8M525 1022.6h5.8M526.1 1022.3h5.8M527.2 1022.4h5.8M528.4 1022.3h5.8M529.5 1022.3h5.8M530.6 1021.9h5.8M531.8 1021.8h5.8M532.9 1022h5.8M534 1021.6h5.8M535.2 1021.4h5.8M536.3 1021.7h5.8M537.4 1021.1h5.8M538.6 1021.5h5.8M539.7 1021h5.8M540.8 1021h5.8M542 1021.3h5.8M543.1 1021h5.8M544.2 1021.2h5.8M545.4 1021.1h5.8M546.5 1021.5h5.8M547.6 1021.4h5.8M548.8 1021.3h5.8M549.9 1021.1h5.8M551 1021.3h5.8M552.2 1021.4h5.8M553.3 1021.3h5.8M554.4 1021.5h5.8M555.6 1021.4h5.8M556.7 1021.6h5.8M557.8 1021.6h5.8M559 1021.7h5.8M560.1 1021.8h5.8M561.2 1021.8h5.8M562.4 1021.7h5.8M563.5 1021.7h5.8M564.6 1022h5.8M565.8 1021.7h5.8M566.9 1021.9h5.8M568 1022.1h5.8M569.2 1022.1h5.8M570.3 1021.9h5.8M571.4 1021.8h5.8M572.6 1022h5.8M573.7 1022.1h5.8M574.8 1022h5.8M576 1021.9h5.8M577.1 1022h5.8M578.2 1021.8h5.8M579.4 1021.9h5.8M580.5 1021.9h5.8M581.6 1022.2h5.8M582.8 1022.4h5.8M583.9 1021.9h5.8M585 1021.9h5.8M586.2 1022.3h5.8M587.3 1022.1h5.8M588.4 1022.2h5.8M589.6 1022h5.8M590.7 1022.1h5.8M591.8 1022.4h5.8M593 1022.4h5.8M594.1 1022.6h5.8M595.2 1022.7h5.8M596.4 1021.5h5.8M598.1 1016h5.8M600.1 1007h5.8M603.1 998h5.8M606.1 990h5.8M608.1 982h5.8M610.1 976h5.8M614.1 971h5.8M619 968.2h5.8M620.2 968h5.8M621.3 967.8h5.8M622.4 968.3h5.8M623.6 968h5.8M624.7 967.9h5.8M625.8 968h5.8M627 968.4h5.8M628.1 968h5.8M629.2 968.4h5.8M630.4 968.4h5.8M631.5 968h5.8M632.6 968.3h5.8M633.8 968.5h5.8M634.9 968.3h5.8M636 968.6h5.8M637.2 968.3h5.8M638.3 968.5h5.8M639.4 968.2h5.8M640.6 968.5h5.8M641.7 968.5h5.8M642.8 968.3h5.8M644 968.1h5.8M645.1 968.1h5.8M646.2 968.3h5.8M647.4 967.9h5.8M648.5 968.2h5.8M649.6 968h5.8M650.8 968h5.8M651.9 968h5.8M653 968.2h5.8M654.2 967.8h5.8M655.3 967.8h5.8M656.4 967.8h5.8M657.6 967.7h5.8M658.7 967.9h5.8M659.8 968.1h5.8M661 968.1h5.8M662.1 967.8h5.8M663.2 967.8h5.8M664.4 968h5.8M665.5 967.8h5.8M666.6 967.8h5.8M667.8 967.8h5.8M668.9 967.4h5.8M670 967.9h5.8M671.2 967.4h5.8M672.3 967.6h5.8M673.4 967h5.8M675.1 962h5.8M677.1 953h5.8M681.1 947h5.8M684.1 940h5.8M685.5 933h5.8M687.1 926h5.8M689.1 920h5.8M690.4 920h5.8M691.5 920h5.8M692.7 920.2h5.8M693.8 920.4h5.8M694.9 920.6h5.8M696.1 921h5.8M697.2 921.1h5.8M698.3 921.1h5.8M699.5 921h5.8M700.6 921.1h5.8M701.7 920.6h5.8M702.9 920.8h5.8M704 920.5h5.8M705.1 920.7h5.8M706.3 920.9h5.8M707.4 920.6h5.8M708.5 920.5h5.8M709.7 920.4h5.8M710.8 920.5h5.8M711.9 920.7h5.8M713.1 920.7h5.8M714.2 920.5h5.8M715.3 920.7h5.8M716.5 920.5h5.8M717.6 920.2h5.8M718.7 920.2h5.8M719.9 920.3h5.8M721 920.3h5.8M722.1 920.2h5.8M723.3 920.1h5.8M724.4 919.8h5.8M725.5 920.3h5.8M726.7 919.8h5.8M727.8 920.2h5.8M728.9 919.7h5.8M730.1 920.1h5.8M731.2 919.7h5.8M732.3 920h5.8M733.5 919.4h5.8M734.6 919.7h5.8M735.7 919.5h5.8M736.9 919.7h5.8M738 919.6h5.8M739.1 919.4h5.8M740.3 919.5h5.8M741.4 919.6h5.8M742.5 918.9h5.8M743.7 919.1h5.8M744.8 919.1h5.8M745.9 919h5.8M747.1 918.7h5.8M748.2 919h5.8M749.3 918.5h5.8M750.5 918.8h5.8M751.6 918.5h5.8M752.7 918.2h5.8M753.9 918.6h5.8M755 918.1h5.8M756.1 918.5h5.8M757.3 918.4h5.8M758.4 918.5h5.8M759.5 918.5h5.8M760.7 918.2h5.8M761.8 918h5.8M762.9 918.1h5.8M764.1 917.9h5.8M765.2 918.2h5.8M766.3 917.9h5.8M767.5 917.9h5.8M768.6 917.9h5.8M769.7 918h5.8M770.9 918.2h5.8M772 918h5.8M773.1 918h5.8M774.3 917.7h5.8M775.4 917.9h5.8M776.5 917.8h5.8M777.7 918.1h5.8M778.8 917.6h5.8M779.9 917.9h5.8M781.1 918h5.8M782.2 917.8h5.8M783.3 917.5h5.8M784.5 917.6h5.8M785.6 917.6h5.8M786.7 917.6h5.8M787.9 917.6h5.8M789 918h5.8M790.1 917.8h5.8M791.3 917.9h5.8M792.4 917.7h5.8M793.5 916.3h5.8M795.1 912h5.8M797.1 901.6h5.8M798.7 890.4h5.8M801.1 883h5.8M802.7 874h5.8M807.1 871.6h5.8M809.1 863h5.8M812.7 861h5.8M814.1 854h5.8M816.1 850h5.8M818.5 849.6h5.8M819.6 849.6h5.8M820.7 849.3h5.8M821.9 849.1h5.8M823 849.2h5.8M824.1 849.2h5.8M825.3 848.6h5.8M826.4 848.1h5.8M827.5 847.3h5.8M828.7 846.2h5.8M829.8 845.4h5.8M830.9 843.4h5.8M832.1 841.5h5.8M833.2 839.6h5.8M834.3 836h5.8M835.5 832.1h5.8M836.5 827h5.8M837.7 820h5.8M838.5 815h5.8M839.9 808h5.8M841.1 801h5.8M842.3 795h5.8M843.5 788h5.8M844.7 781h5.8M845.7 774h5.8M846.7 768h5.8M847.7 761h5.8M848.7 755h5.8M849.7 749h5.8M851.1 743h5.8M852.5 736h5.8M854.1 728h5.8M855.9 720.6h5.8M857 717.7h5.8M858.1 714.6h5.8M859.3 711.4h5.8M860.4 709h5.8M861.5 706.5h5.8M862.7 704.1h5.8M863.8 701.8h5.8M864.9 700.2h5.8M866.1 697.9h5.8M867.2 696.9h5.8M868.3 695.3h5.8M869.5 693.7h5.8M870.6 692.7h5.8M871.7 691.5h5.8M872.9 690.5h5.8M874 689.7h5.8M875.1 688.6h5.8M876.3 687.4h5.8M877.4 687.1h5.8M878.5 686.1h5.8M879.7 685.4h5.8M880.8 684.6h5.8M881.9 684.4h5.8M883.1 683.9h5.8M884.2 683.1h5.8M885.3 682.8h5.8M886.5 682h5.8M887.6 681.5h5.8M888.7 680.9h5.8M889.9 680.4h5.8M891 680.1h5.8M892.1 679.6h5.8M893.3 679.1h5.8M894.4 679.1h5.8M895.5 678.5h5.8M896.7 678.2h5.8" fill="none" stroke="#000" stroke-width="5.1" stroke-linecap="butt"/>
<path d="M107.5 1154.9 L108.6 1154.4 L109.8 1154.9 L110.9 1154.6 L112 1154.6 L113.2 1154.1 L114.3 1154.8 L115.4 1153.9 L116.6 1154.1 L117.7 1154.3 L118.8 1154.6 L120 1154 L121.1 1154.7 L122.2 1154.8 L123.4 1154 L124.5 1154.4 L125.6 1153.8 L126.8 1154.2 L127.9 1153.9 L129 1154.8 L130.2 1154.2 L131.3 1154.8 L132.4 1154.6 L133.6 1154.7 L134.7 1154 L135.8 1153.9 L137 1154.4 L138.1 1153.9 L139.2 1154.5 L140.4 1154.2 L141.5 1154.3 L142.6 1154.7 L143.8 1154.3 L144.9 1153.9 L146 1153.9 L147.2 1154.3 L148.3 1154.3 L149.4 1154.4 L150.6 1154.1 L151.7 1154.4 L152.8 1154.1 L154 1154.3 L155.1 1154.5 L156.2 1153.9 L157.4 1154.1 L158.5 1154.2 L159.6 1154.4 L160.8 1153.9 L161.9 1154.2 L163 1154.3 L164.2 1154.6 L165.3 1154 L166.4 1154.3 L167.6 1153.8 L168.7 1154.1 L169.8 1153.8 L171 1154.6 L172.1 1154.1 L173.2 1154.5 L174.4 1154 L175.5 1154.5 L176.6 1154 L177.8 1153.9 L178.9 1154.2 L180 1154.4 L181.2 1154.5 L182.3 1154.2 L183.4 1153.7 L184.6 1154.2 L185.7 1153.8 L186.8 1154.3 L188 1154.5 L189.1 1154.1 L190.2 1154.2 L191.4 1153.6 L192.5 1154.1 L193.6 1153.7 L194.8 1154.2 L195.9 1153.9 L197 1154.3 L198.2 1153.6 L199.3 1153.6 L200.4 1154.2 L201.6 1154 L202.7 1154.1 L203.8 1154.3 L205 1154 L206.1 1152.8 L207.2 1151 L208.4 1150.9 L209.5 1151.9 L210.6 1152.7 L211.8 1153.4 L212.9 1153.9 L214 1153.4 L215.2 1153.3 L216.3 1153.6 L217.4 1153.5 L218.6 1153.8 L219.7 1153.6 L220.8 1153.4 L222 1153.6 L223.1 1153.7 L224.2 1154.2 L225.4 1154.3 L226.5 1153.9 L227.6 1153.4 L228.8 1154.1 L229.9 1154 L231 1154.2 L232.2 1153.8 L233.3 1153.5 L234.4 1154.1 L235.6 1153.6 L236.7 1154.3 L237.8 1153.7 L239 1152.6 L240 1152 L241.6 1149 L242.5 1143 L243 1135 L245 1101 L247.6 1085 L249 1068 L251 1066 L252.5 1064.5 L254 1064 L255.5 1067 L257 1072 L258.2 1071.9 L259.4 1072.8 L260.5 1072.7 L261.6 1072.2 L262.8 1072.4 L263.9 1073.1 L265 1072.7 L266.2 1072.6 L267.3 1072.9 L268.4 1072.3 L269.6 1072.7 L270.7 1072.4 L271.8 1072.1 L273 1071.5 L274.1 1071.6 L275.2 1067.6 L276.4 1051.1 L277.5 1042.9 L278.6 1037.1 L279.8 1031.2 L280.9 1020.3 L282 1006.9 L283.2 1002.3 L284.3 1002.2 L285.4 1002.1 L286.6 1001.7 L287.7 1001.8 L288.8 1001.7 L290 1002.1 L291.1 1001.6 L292.2 1001.5 L293.4 1002.1 L294.5 1002.1 L295.6 1002.1 L296.8 1001.9 L297.9 1001.1 L299 1001.1 L300.2 1001.6 L301.3 1001.8 L302.4 1001.8 L303.6 1001.5 L304.7 1001.8 L305.8 1001 L307 1001 L308.1 1001.1 L309.2 1001 L310.4 1001 L311.5 1000.8 L312.6 1001 L313.8 1000.7 L314.9 1001.1 L316 1001.5 L317.2 1001 L318.3 1001.1 L319.4 985.9 L320.6 977.9 L321.7 974.3 L322.8 968.1 L324 956.2 L325.1 941.6 L326.2 931.8 L327.4 927.5 L328.5 927.1 L329.6 926.5 L330.8 926.9 L331.9 920.2 L333 915.1 L334.2 911.2 L335.3 906.9 L336.4 897.2 L337.6 896.3 L338.7 896 L339.8 895.4 L341 895.2 L342.1 895.5 L343.2 895.3 L344.4 895.6 L345.5 895.2 L346.6 895.5 L347.8 895.9 L348.9 895.3 L350 895.8 L351.2 894.9 L352.3 895.4 L353.4 895.4 L354.6 895.7 L355.7 895.6 L356.8 895.2 L358 895.4 L359.1 895.6 L360.2 895.4 L361.4 895.5 L362.5 895.5 L363.6 895 L364.8 895.2 L365.9 884.9 L367 877.8 L368.2 857.9 L369.3 849.6 L370.4 847.4 L371.6 845.4 L372.7 844 L373.8 842.8 L375 841.8 L376.1 840.3 L377.2 832.9 L378.4 829 L379.5 825.1 L380.6 824.8 L381.8 827 L382.9 829 L384 832 L385 835 L387 845 L388.4 852 L389.6 861 L392 868 L394 862 L395 851 L398 863 L399.6 861 L400 851 L402.4 846 L403.6 849.5 L404.8 851 L406 853 L407.2 851.5 L408.4 850 L409.6 849 L410.8 851 L412 850 L413 851.5 L414 852 L415.6 841 L416.9 837.5 L418 834.8 L419.2 833.9 L420.3 832.6 L421.4 831.7 L422.6 829.8 L423.7 827.8 L424.8 814.9 L426 811.8 L427.1 812.4 L428.2 812.5 L429.4 812.8 L430.5 812.7 L431.6 811.8 L432.8 810.6 L433.9 808.7 L435 807.8 L436.2 805.9 L437.3 801.4 L438.4 800.1 L439.6 799.7 L440.7 799.6 L441.8 799.4 L443 798.8 L444.1 798.9 L445.2 798.8 L446.4 798.2 L447.5 798.7 L448.6 798.2 L449.8 798.3 L450.9 798.7 L452 798.5 L453.2 797.8 L454.3 797.9 L455.4 798 L456.6 797.5 L457.7 798.1 L458.8 797.5 L460 797.3 L461.1 797.8 L462.2 797.5 L463.4 796.9 L464.5 797.4 L465.6 797.5 L466.8 796.7 L467.9 797.3 L469 796.8 L470.2 796.9 L471.3 796.6 L472.4 797 L473.6 797.4 L474.7 796.7 L475.8 796.5 L477 797.2 L478.1 797.3 L479.2 796.8 L480.4 797.2 L481.5 797.2 L482.6 797 L483.8 797.1 L484.9 796.4 L486 797.1 L487.2 796.6 L488.3 796.5 L489.4 796.7 L490.6 797 L491.7 796.6 L492.8 796.2 L494 796.4 L495.1 796.4 L496.2 796.8 L497.4 797 L498.5 796.6 L499.6 796.3 L500.8 796.7 L501.9 796.1 L503 795.9 L504.2 796.5 L505.3 796.2 L506.4 796.2 L507.6 795.8 L508.7 796.1 L509.8 796.2 L511 796.5 L512.1 795.5 L513.2 794.8 L514.4 792.8 L515.5 791 L516.6 788.8 L517.8 785.6 L518.9 782.9 L520 778.2 L521.2 774.2 L522.3 774 L523.4 773 L524.6 773 L525.7 772.6 L526.8 771.9 L528 772 L529.1 771.5 L530.2 771 L531.4 771 L532.5 771.2 L533.6 770.9 L534.8 770.8 L535.9 770.4 L537 770.7 L538.2 770.7 L539.3 770.1 L540.4 770 L541.6 770.2 L542.7 769.8 L543.8 769.5 L545 769.6 L546.1 769.9 L547.2 769.6 L548.4 769.6 L549.5 769.6 L550.6 769.4 L551.8 769.7 L552.9 769.5 L554 769.5 L555.2 769.2 L556.3 769.3 L557.4 769.2 L558.6 769.3 L559.7 768.7 L560.8 768.6 L562 768.3 L563.1 768.3 L564.2 769.1 L565.4 768.6 L566.5 768.2 L567.6 768.1 L568.8 768.5 L569.9 768.6 L571 768.7 L572.2 768.4 L573.3 768.1 L574.4 768.5 L575.6 767.9 L576.7 768 L577.8 767.8 L579 768.3 L580.1 768.1 L581.2 768 L582.4 767.7 L583.5 768.3 L584.6 767.8 L585.8 768.3 L586.9 767.6 L588 767.9 L589.2 768 L590.3 767.3 L591.4 767.3 L592.6 767.9 L593.7 767.1 L594.8 767.5 L596 766.4 L597.1 766.5 L598.2 765.6 L599.4 764.2 L600.5 763.4 L601.6 761 L602.8 758.1 L603.9 756 L605 754.3 L606.2 752.3 L607.3 749.8 L608.4 747.5 L609.6 745.8 L610.7 744.6 L611.8 743.2 L613 741.7 L614.1 740.7 L615.2 740 L616.4 738.9 L617.5 738.8 L618.6 737.9 L619.8 738 L620.9 737.8 L622 737.5 L623.2 736.8 L624.3 737.3 L625.4 737 L626.6 736.6 L627.7 736.3 L628.8 736.9 L630 737.1 L631.1 736.7 L632.2 736.4 L633.4 736.3 L634.5 736.4 L635.6 736.9 L636.8 736.3 L637.9 736.2 L639 736.2 L640.2 735.9 L641.3 735.9 L642.4 736.4 L643.6 736.4 L644.7 735.8 L645.8 735.9 L647 736.3 L648.1 736 L649.2 735.7 L650.4 736.2 L651.5 736 L652.6 735.6 L653.8 735.3 L654.9 735.8 L656 735.9 L657.2 735.6 L658.3 735.7 L659.4 734.9 L660.6 735.5 L661.7 735.6 L662.8 735.1 L664 734.9 L665.1 735.6 L666.2 735.5 L667.4 735 L668.5 735.2 L669.6 734.8 L670.8 734.9 L671.9 735.2 L673 734.9 L674.2 734.4 L675.3 733.4 L676.4 732.9 L677.5 731.6 L678.7 731.4 L679.8 729.4 L680.9 726.5 L682.1 725 L683.2 723.7 L684.3 721.9 L685.5 720.4 L686.6 718.6 L687.7 715.7 L688.9 712.3 L690 711.3 L691.1 710.4 L692.3 708.8 L693.4 708.6 L694.5 708.9 L695.7 708.7 L696.8 709 L697.9 709.3 L699.1 709.1 L700.2 708.7 L701.3 709.7 L702.5 709 L703.6 708.8 L704.7 709.3 L705.9 709.7 L707 709.8 L708.1 709.1 L709.3 709 L710.4 709.8 L711.5 709.9 L712.7 710 L713.8 709.9 L714.9 709.9 L716.1 709.9 L717.2 709.2 L718.3 709.4 L719.5 709.3 L720.6 709.3 L721.7 710.3 L722.9 710.3 L724 709.9 L725.1 709.5 L726.3 709.5 L727.4 710.3 L728.5 710.4 L729.7 710.1 L730.8 710.2 L731.9 710 L733.1 710.1 L734.2 710.4 L735.3 709.8 L736.5 709.4 L737.6 709.3 L738.7 709.9 L739.9 709.3 L741 709.3 L742.1 710 L743.3 710 L744.4 709.2 L745.5 709.2 L746.7 710 L747.8 709.9 L748.9 709.6 L750.1 709.4 L751.2 709.6 L752.3 709.3 L753.5 709.8 L754.6 709.5 L755.7 709.4 L756.9 708.8 L758 709.4 L759.1 708.7 L760.3 708.7 L761.4 709.4 L762.5 709.1 L763.7 709 L764.8 709.1 L765.9 709.3 L767.1 709.3 L768.2 708.4 L769.3 708.3 L770.5 708.4 L771.6 709.2 L772.7 708.7 L773.9 708.5 L775 708.7 L776.1 708.2 L777.3 708.5 L778.4 708.3 L779.5 708.7 L780.7 708.1 L781.8 708.9 L782.9 707.9 L784.1 708 L785.2 708 L786.3 708.8 L787.5 708 L788.6 708.4 L789.7 708.4 L790.9 708 L792 707.9 L793.1 708.3 L794.3 707.6 L795.4 707.5 L796.5 706.8 L797.7 704.5 L798.8 701.9 L799.9 697.8 L801.1 693.8 L802.2 692 L803.3 689.5 L804.5 687.4 L805.6 687.1 L806.7 686.8 L807.9 685.6 L809 685.2 L810.1 684.4 L811.3 683.4 L812.4 682 L813.5 680.9 L814.7 679.2 L815.8 678.8 L816.9 678.4 L818.1 678 L819.2 677.4 L820.3 678.1 L821.5 677.5 L822.6 678 L823.7 678.1 L824.9 677.4 L826 677.3 L827.1 678.4 L828.3 677.9 L829.4 678.4 L830.5 679.6 L831.7 681.3 L832.8 683.8 L833.9 686.4 L835.1 690 L836.2 694.3 L837 697 L838.6 704 L839.6 711 L840.6 718 L842 725 L843 733 L844 742 L845 751 L846 760 L847.4 770 L848.6 780 L850 790 L851 801 L852.4 811.6 L853.6 822.4 L854.6 833 L855.6 844 L856.6 854 L857.6 863 L859 873 L860.4 882 L861.2 888 L862.4 896 L863.6 902 L865 908 L866.4 914 L867.6 920 L869 926 L870.4 932 L872.4 939 L873.6 943.1 L874.7 946.2 L875.9 949.6 L877 952.5 L878.1 955.5 L879.3 957.9 L880.4 960 L881.5 963.2 L882.7 964.6 L883.8 966.8 L884.9 969.1 L886.1 971.3 L887.2 973.1 L888.3 973.9 L889.5 975.4 L890.6 977.6 L891.7 978.9 L892.9 980.3 L894 981.1 L895.1 982.9 L896.3 983.4 L897.4 984.3 L898.5 985.1 L899.7 985.9" fill="none" stroke="#f00" stroke-width="1.2" stroke-linejoin="round"/>
<path d="M107.5 1154.9h.01M108.6 1154.4h.01M109.8 1154.9h.01M110.9 1154.6h.01M112 1154.6h.01M113.2 1154.1h.01M114.3 1154.8h.01M115.4 1153.9h.01M116.6 1154.1h.01M117.7 1154.3h.01M118.8 1154.6h.01M120 1154h.01M121.1 1154.7h.01M122.2 1154.8h.01M123.4 1154h.01M124.5 1154.4h.01M125.6 1153.8h.01M126.8 1154.2h.01M127.9 1153.9h.01M129 1154.8h.01M130.2 1154.2h.01M131.3 1154.8h.01M132.4 1154.6h.01M133.6 1154.7h.01M134.7 1154h.01M135.8 1153.9h.01M137 1154.4h.01M138.1 1153.9h.01M139.2 1154.5h.01M140.4 1154.2h.01M141.5 1154.3h.01M142.6 1154.7h.01M143.8 1154.3h.01M144.9 1153.9h.01M146 1153.9h.01M147.2 1154.3h.01M148.3 1154.3h.01M149.4 1154.4h.01M150.6 1154.1h.01M151.7 1154.4h.01M152.8 1154.1h.01M154 1154.3h.01M155.1 1154.5h.01M156.2 1153.9h.01M157.4 1154.1h.01M158.5 1154.2h.01M159.6 1154.4h.01M160.8 1153.9h.01M161.9 1154.2h.01M163 1154.3h.01M164.2 1154.6h.01M165.3 1154h.01M166.4 1154.3h.01M167.6 1153.8h.01M168.7 1154.1h.01M169.8 1153.8h.01M171 1154.6h.01M172.1 1154.1h.01M173.2 1154.5h.01M174.4 1154h.01M175.5 1154.5h.01M176.6 1154h.01M177.8 1153.9h.01M178.9 1154.2h.01M180 1154.4h.01M181.2 1154.5h.01M182.3 1154.2h.01M183.4 1153.7h.01M184.6 1154.2h.01M185.7 1153.8h.01M186.8 1154.3h.01M188 1154.5h.01M189.1 1154.1h.01M190.2 1154.2h.01M191.4 1153.6h.01M192.5 1154.1h.01M193.6 1153.7h.01M194.8 1154.2h.01M195.9 1153.9h.01M197 1154.3h.01M198.2 1153.6h.01M199.3 1153.6h.01M200.4 1154.2h.01M201.6 1154h.01M202.7 1154.1h.01M203.8 1154.3h.01M205 1154h.01M206.1 1152.8h.01M207.2 1151h.01M208.4 1150.9h.01M209.5 1151.9h.01M210.6 1152.7h.01M211.8 1153.4h.01M212.9 1153.9h.01M214 1153.4h.01M215.2 1153.3h.01M216.3 1153.6h.01M217.4 1153.5h.01M218.6 1153.8h.01M219.7 1153.6h.01M220.8 1153.4h.01M222 1153.6h.01M223.1 1153.7h.01M224.2 1154.2h.01M225.4 1154.3h.01M226.5 1153.9h.01M227.6 1153.4h.01M228.8 1154.1h.01M229.9 1154h.01M231 1154.2h.01M232.2 1153.8h.01M233.3 1153.5h.01M234.4 1154.1h.01M235.6 1153.6h.01M236.7 1154.3h.01M237.8 1153.7h.01M239 1152.6h.01M240 1152h.01M241.6 1149h.01M242.5 1143h.01M243 1135h.01M245 1101h.01M247.6 1085h.01M249 1068h.01M251 1066h.01M252.5 1064.5h.01M254 1064h.01M255.5 1067h.01M257 1072h.01M258.2 1071.9h.01M259.4 1072.8h.01M260.5 1072.7h.01M261.6 1072.2h.01M262.8 1072.4h.01M263.9 1073.1h.01M265 1072.7h.01M266.2 1072.6h.01M267.3 1072.9h.01M268.4 1072.3h.01M269.6 1072.7h.01M270.7 1072.4h.01M271.8 1072.1h.01M273 1071.5h.01M274.1 1071.6h.01M275.2 1067.6h.01M276.4 1051.1h.01M277.5 1042.9h.01M278.6 1037.1h.01M279.8 1031.2h.01M280.9 1020.3h.01M282 1006.9h.01M283.2 1002.3h.01M284.3 1002.2h.01M285.4 1002.1h.01M286.6 1001.7h.01M287.7 1001.8h.01M288.8 1001.7h.01M290 1002.1h.01M291.1 1001.6h.01M292.2 1001.5h.01M293.4 1002.1h.01M294.5 1002.1h.01M295.6 1002.1h.01M296.8 1001.9h.01M297.9 1001.1h.01M299 1001.1h.01M300.2 1001.6h.01M301.3 1001.8h.01M302.4 1001.8h.01M303.6 1001.5h.01M304.7 1001.8h.01M305.8 1001h.01M307 1001h.01M308.1 1001.1h.01M309.2 1001h.01M310.4 1001h.01M311.5 1000.8h.01M312.6 1001h.01M313.8 1000.7h.01M314.9 1001.1h.01M316 1001.5h.01M317.2 1001h.01M318.3 1001.1h.01M319.4 985.9h.01M320.6 977.9h.01M321.7 974.3h.01M322.8 968.1h.01M324 956.2h.01M325.1 941.6h.01M326.2 931.8h.01M327.4 927.5h.01M328.5 927.1h.01M329.6 926.5h.01M330.8 926.9h.01M331.9 920.2h.01M333 915.1h.01M334.2 911.2h.01M335.3 906.9h.01M336.4 897.2h.01M337.6 896.3h.01M338.7 896h.01M339.8 895.4h.01M341 895.2h.01M342.1 895.5h.01M343.2 895.3h.01M344.4 895.6h.01M345.5 895.2h.01M346.6 895.5h.01M347.8 895.9h.01M348.9 895.3h.01M350 895.8h.01M351.2 894.9h.01M352.3 895.4h.01M353.4 895.4h.01M354.6 895.7h.01M355.7 895.6h.01M356.8 895.2h.01M358 895.4h.01M359.1 895.6h.01M360.2 895.4h.01M361.4 895.5h.01M362.5 895.5h.01M363.6 895h.01M364.8 895.2h.01M365.9 884.9h.01M367 877.8h.01M368.2 857.9h.01M369.3 849.6h.01M370.4 847.4h.01M371.6 845.4h.01M372.7 844h.01M373.8 842.8h.01M375 841.8h.01M376.1 840.3h.01M377.2 832.9h.01M378.4 829h.01M379.5 825.1h.01M380.6 824.8h.01M381.8 827h.01M382.9 829h.01M384 832h.01M385 835h.01M387 845h.01M388.4 852h.01M389.6 861h.01M392 868h.01M394 862h.01M395 851h.01M398 863h.01M399.6 861h.01M400 851h.01M402.4 846h.01M403.6 849.5h.01M404.8 851h.01M406 853h.01M407.2 851.5h.01M408.4 850h.01M409.6 849h.01M410.8 851h.01M412 850h.01M413 851.5h.01M414 852h.01M415.6 841h.01M416.9 837.5h.01M418 834.8h.01M419.2 833.9h.01M420.3 832.6h.01M421.4 831.7h.01M422.6 829.8h.01M423.7 827.8h.01M424.8 814.9h.01M426 811.8h.01M427.1 812.4h.01M428.2 812.5h.01M429.4 812.8h.01M430.5 812.7h.01M431.6 811.8h.01M432.8 810.6h.01M433.9 808.7h.01M435 807.8h.01M436.2 805.9h.01M437.3 801.4h.01M438.4 800.1h.01M439.6 799.7h.01M440.7 799.6h.01M441.8 799.4h.01M443 798.8h.01M444.1 798.9h.01M445.2 798.8h.01M446.4 798.2h.01M447.5 798.7h.01M448.6 798.2h.01M449.8 798.3h.01M450.9 798.7h.01M452 798.5h.01M453.2 797.8h.01M454.3 797.9h.01M455.4 798h.01M456.6 797.5h.01M457.7 798.1h.01M458.8 797.5h.01M460 797.3h.01M461.1 797.8h.01M462.2 797.5h.01M463.4 796.9h.01M464.5 797.4h.01M465.6 797.5h.01M466.8 796.7h.01M467.9 797.3h.01M469 796.8h.01M470.2 796.9h.01M471.3 796.6h.01M472.4 797h.01M473.6 797.4h.01M474.7 796.7h.01M475.8 796.5h.01M477 797.2h.01M478.1 797.3h.01M479.2 796.8h.01M480.4 797.2h.01M481.5 797.2h.01M482.6 797h.01M483.8 797.1h.01M484.9 796.4h.01M486 797.1h.01M487.2 796.6h.01M488.3 796.5h.01M489.4 796.7h.01M490.6 797h.01M491.7 796.6h.01M492.8 796.2h.01M494 796.4h.01M495.1 796.4h.01M496.2 796.8h.01M497.4 797h.01M498.5 796.6h.01M499.6 796.3h.01M500.8 796.7h.01M501.9 796.1h.01M503 795.9h.01M504.2 796.5h.01M505.3 796.2h.01M506.4 796.2h.01M507.6 795.8h.01M508.7 796.1h.01M509.8 796.2h.01M511 796.5h.01M512.1 795.5h.01M513.2 794.8h.01M514.4 792.8h.01M515.5 791h.01M516.6 788.8h.01M517.8 785.6h.01M518.9 782.9h.01M520 778.2h.01M521.2 774.2h.01M522.3 774h.01M523.4 773h.01M524.6 773h.01M525.7 772.6h.01M526.8 771.9h.01M528 772h.01M529.1 771.5h.01M530.2 771h.01M531.4 771h.01M532.5 771.2h.01M533.6 770.9h.01M534.8 770.8h.01M535.9 770.4h.01M537 770.7h.01M538.2 770.7h.01M539.3 770.1h.01M540.4 770h.01M541.6 770.2h.01M542.7 769.8h.01M543.8 769.5h.01M545 769.6h.01M546.1 769.9h.01M547.2 769.6h.01M548.4 769.6h.01M549.5 769.6h.01M550.6 769.4h.01M551.8 769.7h.01M552.9 769.5h.01M554 769.5h.01M555.2 769.2h.01M556.3 769.3h.01M557.4 769.2h.01M558.6 769.3h.01M559.7 768.7h.01M560.8 768.6h.01M562 768.3h.01M563.1 768.3h.01M564.2 769.1h.01M565.4 768.6h.01M566.5 768.2h.01M567.6 768.1h.01M568.8 768.5h.01M569.9 768.6h.01M571 768.7h.01M572.2 768.4h.01M573.3 768.1h.01M574.4 768.5h.01M575.6 767.9h.01M576.7 768h.01M577.8 767.8h.01M579 768.3h.01M580.1 768.1h.01M581.2 768h.01M582.4 767.7h.01M583.5 768.3h.01M584.6 767.8h.01M585.8 768.3h.01M586.9 767.6h.01M588 767.9h.01M589.2 768h.01M590.3 767.3h.01M591.4 767.3h.01M592.6 767.9h.01M593.7 767.1h.01M594.8 767.5h.01M596 766.4h.01M597.1 766.5h.01M598.2 765.6h.01M599.4 764.2h.01M600.5 763.4h.01M601.6 761h.01M602.8 758.1h.01M603.9 756h.01M605 754.3h.01M606.2 752.3h.01M607.3 749.8h.01M608.4 747.5h.01M609.6 745.8h.01M610.7 744.6h.01M611.8 743.2h.01M613 741.7h.01M614.1 740.7h.01M615.2 740h.01M616.4 738.9h.01M617.5 738.8h.01M618.6 737.9h.01M619.8 738h.01M620.9 737.8h.01M622 737.5h.01M623.2 736.8h.01M624.3 737.3h.01M625.4 737h.01M626.6 736.6h.01M627.7 736.3h.01M628.8 736.9h.01M630 737.1h.01M631.1 736.7h.01M632.2 736.4h.01M633.4 736.3h.01M634.5 736.4h.01M635.6 736.9h.01M636.8 736.3h.01M637.9 736.2h.01M639 736.2h.01M640.2 735.9h.01M641.3 735.9h.01M642.4 736.4h.01M643.6 736.4h.01M644.7 735.8h.01M645.8 735.9h.01M647 736.3h.01M648.1 736h.01M649.2 735.7h.01M650.4 736.2h.01M651.5 736h.01M652.6 735.6h.01M653.8 735.3h.01M654.9 735.8h.01M656 735.9h.01M657.2 735.6h.01M658.3 735.7h.01M659.4 734.9h.01M660.6 735.5h.01M661.7 735.6h.01M662.8 735.1h.01M664 734.9h.01M665.1 735.6h.01M666.2 735.5h.01M667.4 735h.01M668.5 735.2h.01M669.6 734.8h.01M670.8 734.9h.01M671.9 735.2h.01M673 734.9h.01M674.2 734.4h.01M675.3 733.4h.01M676.4 732.9h.01M677.5 731.6h.01M678.7 731.4h.01M679.8 729.4h.01M680.9 726.5h.01M682.1 725h.01M683.2 723.7h.01M684.3 721.9h.01M685.5 720.4h.01M686.6 718.6h.01M687.7 715.7h.01M688.9 712.3h.01M690 711.3h.01M691.1 710.4h.01M692.3 708.8h.01M693.4 708.6h.01M694.5 708.9h.01M695.7 708.7h.01M696.8 709h.01M697.9 709.3h.01M699.1 709.1h.01M700.2 708.7h.01M701.3 709.7h.01M702.5 709h.01M703.6 708.8h.01M704.7 709.3h.01M705.9 709.7h.01M707 709.8h.01M708.1 709.1h.01M709.3 709h.01M710.4 709.8h.01M711.5 709.9h.01M712.7 710h.01M713.8 709.9h.01M714.9 709.9h.01M716.1 709.9h.01M717.2 709.2h.01M718.3 709.4h.01M719.5 709.3h.01M720.6 709.3h.01M721.7 710.3h.01M722.9 710.3h.01M724 709.9h.01M725.1 709.5h.01M726.3 709.5h.01M727.4 710.3h.01M728.5 710.4h.01M729.7 710.1h.01M730.8 710.2h.01M731.9 710h.01M733.1 710.1h.01M734.2 710.4h.01M735.3 709.8h.01M736.5 709.4h.01M737.6 709.3h.01M738.7 709.9h.01M739.9 709.3h.01M741 709.3h.01M742.1 710h.01M743.3 710h.01M744.4 709.2h.01M745.5 709.2h.01M746.7 710h.01M747.8 709.9h.01M748.9 709.6h.01M750.1 709.4h.01M751.2 709.6h.01M752.3 709.3h.01M753.5 709.8h.01M754.6 709.5h.01M755.7 709.4h.01M756.9 708.8h.01M758 709.4h.01M759.1 708.7h.01M760.3 708.7h.01M761.4 709.4h.01M762.5 709.1h.01M763.7 709h.01M764.8 709.1h.01M765.9 709.3h.01M767.1 709.3h.01M768.2 708.4h.01M769.3 708.3h.01M770.5 708.4h.01M771.6 709.2h.01M772.7 708.7h.01M773.9 708.5h.01M775 708.7h.01M776.1 708.2h.01M777.3 708.5h.01M778.4 708.3h.01M779.5 708.7h.01M780.7 708.1h.01M781.8 708.9h.01M782.9 707.9h.01M784.1 708h.01M785.2 708h.01M786.3 708.8h.01M787.5 708h.01M788.6 708.4h.01M789.7 708.4h.01M790.9 708h.01M792 707.9h.01M793.1 708.3h.01M794.3 707.6h.01M795.4 707.5h.01M796.5 706.8h.01M797.7 704.5h.01M798.8 701.9h.01M799.9 697.8h.01M801.1 693.8h.01M802.2 692h.01M803.3 689.5h.01M804.5 687.4h.01M805.6 687.1h.01M806.7 686.8h.01M807.9 685.6h.01M809 685.2h.01M810.1 684.4h.01M811.3 683.4h.01M812.4 682h.01M813.5 680.9h.01M814.7 679.2h.01M815.8 678.8h.01M816.9 678.4h.01M818.1 678h.01M819.2 677.4h.01M820.3 678.1h.01M821.5 677.5h.01M822.6 678h.01M823.7 678.1h.01M824.9 677.4h.01M826 677.3h.01M827.1 678.4h.01M828.3 677.9h.01M829.4 678.4h.01M830.5 679.6h.01M831.7 681.3h.01M832.8 683.8h.01M833.9 686.4h.01M835.1 690h.01M836.2 694.3h.01M837 697h.01M838.6 704h.01M839.6 711h.01M840.6 718h.01M842 725h.01M843 733h.01M844 742h.01M845 751h.01M846 760h.01M847.4 770h.01M848.6 780h.01M850 790h.01M851 801h.01M852.4 811.6h.01M853.6 822.4h.01M854.6 833h.01M855.6 844h.01M856.6 854h.01M857.6 863h.01M859 873h.01M860.4 882h.01M861.2 888h.01M862.4 896h.01M863.6 902h.01M865 908h.01M866.4 914h.01M867.6 920h.01M869 926h.01M870.4 932h.01M872.4 939h.01M873.6 943.1h.01M874.7 946.2h.01M875.9 949.6h.01M877 952.5h.01M878.1 955.5h.01M879.3 957.9h.01M880.4 960h.01M881.5 963.2h.01M882.7 964.6h.01M883.8 966.8h.01M884.9 969.1h.01M886.1 971.3h.01M887.2 973.1h.01M888.3 973.9h.01M889.5 975.4h.01M890.6 977.6h.01M891.7 978.9h.01M892.9 980.3h.01M894 981.1h.01M895.1 982.9h.01M896.3 983.4h.01M897.4 984.3h.01M898.5 985.1h.01M899.7 985.9h.01" fill="none" stroke="#f00" stroke-width="6.0" stroke-linecap="round"/>
</g>
<path d="M379.4 218V277M399.3 310.5H462M448 422.8H533M379.8 753V823M392.4 868V938.6M437.5 741.3V800M829.7 627.3V679M894.4 982V1043" stroke="#000" stroke-width="1.4" fill="none"/>
<path d="M263 423.6H215" stroke="#000" stroke-width="1.4" fill="none"/><path d="M198 423.6L215 419.4V427.8Z" fill="#000"/>
<path d="M399 476.7H456.4" stroke="#000" stroke-width="1.4" fill="none"/><path d="M473.4 476.7L456.4 472.5V480.9Z" fill="#000"/>
<path d="M324 952.3H262.3" stroke="#000" stroke-width="1.4" fill="none"/><path d="M245.3 952.3L262.3 948.1V956.5Z" fill="#000"/>
<path d="M604 1006H676.6" stroke="#000" stroke-width="1.4" fill="none"/><path d="M693.6 1006L676.6 1001.8V1010.2Z" fill="#000"/>
<path d="M107.5 9.95H900.65V1162.1H107.5Z" stroke="#000" stroke-width="2.55" fill="none"/>
<path d="M107.5 583.8H900.65" stroke="#000" stroke-width="2.55" fill="none"/>
<path d="M220.8 9.95v10.8M220.8 583.8v11.5M220.8 1162.1v-11M447.4 9.95v10.8M447.4 583.8v11.5M447.4 1162.1v-11M674 9.95v10.8M674 583.8v11.5M674 1162.1v-11M107.5 583.8h12.2M900.65 583.8h-12.2M107.5 1162.1h12.2M900.65 1162.1h-12.2M107.5 469h12.2M900.65 469h-12.2M107.5 1047.2h12.2M900.65 1047.2h-12.2M107.5 354.3h12.2M900.65 354.3h-12.2M107.5 932.3h12.2M900.65 932.3h-12.2M107.5 239.5h12.2M900.65 239.5h-12.2M107.5 817.5h12.2M900.65 817.5h-12.2M107.5 124.7h12.2M900.65 124.7h-12.2M107.5 702.6h12.2M900.65 702.6h-12.2" stroke="#000" stroke-width="2.4" fill="none"/>
<path d="M334.1 9.95v6M334.1 583.8v6M334.1 1162.1v-6M560.7 9.95v6M560.7 583.8v6M560.7 1162.1v-6M787.3 9.95v6M787.3 583.8v6M787.3 1162.1v-6M107.5 526.4h6.6M900.65 526.4h-6.6M107.5 1104.7h6.6M900.65 1104.7h-6.6M107.5 411.6h6.6M900.65 411.6h-6.6M107.5 989.8h6.6M900.65 989.8h-6.6M107.5 296.9h6.6M900.65 296.9h-6.6M107.5 874.9h6.6M900.65 874.9h-6.6M107.5 182.1h6.6M900.65 182.1h-6.6M107.5 760h6.6M900.65 760h-6.6M107.5 67.3h6.6M900.65 67.3h-6.6M107.5 645.1h6.6M900.65 645.1h-6.6" stroke="#000" stroke-width="2" fill="none"/>
<text transform="translate(93.3 591.3) scale(1.05 1)" font-size="25.4" text-anchor="end" >0</text>
<text transform="translate(93.3 476.5) scale(1.05 1)" font-size="25.4" text-anchor="end" >200</text>
<text transform="translate(93.3 361.8) scale(1.05 1)" font-size="25.4" text-anchor="end" >400</text>
<text transform="translate(93.3 247) scale(1.05 1)" font-size="25.4" text-anchor="end" >600</text>
<text transform="translate(93.3 132.2) scale(1.05 1)" font-size="25.4" text-anchor="end" >800</text>
<text transform="translate(93.3 17.4) scale(1.05 1)" font-size="25.4" text-anchor="end" >1000</text>
<text transform="translate(93.3 1169.6) scale(1.05 1)" font-size="25.4" text-anchor="end" >0</text>
<text transform="translate(93.3 1054.7) scale(1.05 1)" font-size="25.4" text-anchor="end" >200</text>
<text transform="translate(93.3 939.8) scale(1.05 1)" font-size="25.4" text-anchor="end" >400</text>
<text transform="translate(93.3 825) scale(1.05 1)" font-size="25.4" text-anchor="end" >600</text>
<text transform="translate(93.3 710.1) scale(1.05 1)" font-size="25.4" text-anchor="end" >800</text>
<text transform="translate(914 476.5) scale(1.05 1)" font-size="25.4" text-anchor="start" >0,2</text>
<text transform="translate(914 361.8) scale(1.05 1)" font-size="25.4" text-anchor="start" >0,4</text>
<text transform="translate(914 247) scale(1.05 1)" font-size="25.4" text-anchor="start" >0,6</text>
<text transform="translate(914 132.2) scale(1.05 1)" font-size="25.4" text-anchor="start" >0,8</text>
<text transform="translate(914 17.4) scale(1.05 1)" font-size="25.4" text-anchor="start" >1,0</text>
<text transform="translate(914 1054.7) scale(1.05 1)" font-size="25.4" text-anchor="start" >0,2</text>
<text transform="translate(914 939.8) scale(1.05 1)" font-size="25.4" text-anchor="start" >0,4</text>
<text transform="translate(914 825) scale(1.05 1)" font-size="25.4" text-anchor="start" >0,6</text>
<text transform="translate(914 710.1) scale(1.05 1)" font-size="25.4" text-anchor="start" >0,8</text>
<text transform="translate(220.8 1193.2) scale(1.05 1)" font-size="25.4" text-anchor="middle" >4000</text>
<text transform="translate(447.4 1193.2) scale(1.05 1)" font-size="25.4" text-anchor="middle" >8000</text>
<text transform="translate(674 1193.2) scale(1.05 1)" font-size="25.4" text-anchor="middle" >12000</text>
<text transform="translate(901.5 1193.2) scale(1.05 1)" font-size="25.4" text-anchor="middle" >16000</text>
<text transform="translate(21.6 292.5) rotate(-90)" font-size="30" text-anchor="middle" textLength="333" lengthAdjust="spacingAndGlyphs">AC current amplitude  (A)</text>
<text transform="translate(21.6 862) rotate(-90)" font-size="30" text-anchor="middle" textLength="336" lengthAdjust="spacingAndGlyphs">AC current amplitude  (A)</text>
<text transform="translate(993.7 293.5) rotate(-90)" font-size="30" text-anchor="middle" textLength="335" lengthAdjust="spacingAndGlyphs">AC voltage amplitude  (V)</text>
<text transform="translate(993.7 869) rotate(-90)" font-size="30" text-anchor="middle" textLength="334" lengthAdjust="spacingAndGlyphs">AC voltage amplitude  (V)</text>
<text transform="translate(555.5 1224.6)" font-size="30.5" text-anchor="middle" textLength="156" lengthAdjust="spacingAndGlyphs" xml:space="preserve">Time  (ms)</text>
<text transform="translate(220.63 98.61) scale(1.133 1)" font-size="35.21">(a)</text>
<text transform="translate(221.19 662.66) scale(1.155 1)" font-size="34.99">(b)</text>
<text transform="translate(163.84 498.90) scale(1.080 1)" font-size="31.11">1</text>
<text transform="translate(352.64 498.90) scale(1.128 1)" font-size="30.93">2</text>
<text transform="translate(227.85 1028.00) scale(1.078 1)" font-size="30.51">3</text>
<text transform="translate(608.65 1057.70) scale(1.043 1)" font-size="31.40">4</text>
<text transform="translate(346.85 230.30) scale(1.073 1)" font-size="25.29">A</text>
<text transform="translate(364.57 236.70) scale(1.050 1)" font-size="16.57">1</text>
<text transform="translate(429.18 299.40) scale(1.089 1)" font-size="24.86">B</text>
<text transform="translate(448.09 305.60) scale(1.050 1)" font-size="16.42">1</text>
<text transform="translate(493.80 407.35) scale(1.063 1)" font-size="25.85">C</text>
<text transform="translate(513.36 413.40) scale(1.050 1)" font-size="16.72">1</text>
<text transform="translate(347.00 775.70) scale(1.052 1)" font-size="25.29">A</text>
<text transform="translate(364.54 781.70) scale(1.230 1)" font-size="16.33">2</text>
<text transform="translate(397.68 920.80) scale(1.070 1)" font-size="25.29">B</text>
<text transform="translate(415.44 926.80) scale(1.130 1)" font-size="16.90">2</text>
<text transform="translate(451.00 760.26) scale(1.029 1)" font-size="24.86">C</text>
<text transform="translate(470.32 766.10) scale(1.218 1)" font-size="16.04">2</text>
<text transform="translate(795.63 648.30) scale(1.073 1)" font-size="24.71">D</text>
<text transform="translate(815.26 654.50) scale(1.242 1)" font-size="16.61">2</text>
<text transform="translate(862.58 1017.70) scale(1.058 1)" font-size="24.42">E</text>
<text transform="translate(880.34 1024.90) scale(1.150 1)" font-size="16.61">2</text>
<text transform="translate(69.03 300.60) scale(1.143 1)" font-size="30.96">I</text>
<text transform="translate(77.42 307.39) scale(1.208 1)" font-size="19.31">q</text>
<text transform="translate(65.93 654.40) scale(1.159 1)" font-size="30.52">I</text>
<text transform="translate(74.22 662.48) scale(1.233 1)" font-size="18.91">q</text>
<text transform="translate(918.96 552.60) scale(1.045 1)" font-size="30.96">V</text>
<text transform="translate(940.32 561.03) scale(1.159 1)" font-size="20.12">q</text>
<text transform="translate(915.46 873.90) scale(1.060 1)" font-size="30.96">V</text>
<text transform="translate(937.42 880.99) scale(1.208 1)" font-size="19.31">q</text>
<rect x="481.1" y="162.6" width="279.9" height="68.4" fill="#fff" stroke="#000" stroke-width="1.3"/>
<path d="M484.4 181.5H544.4" stroke="#f00" stroke-width="1.2"/><circle cx="514.4" cy="181.5" r="2.6" fill="#f00"/>
<path d="M484.4 214.5H544.4" stroke="#000" stroke-width="1.2"/><rect x="511.9" y="212.0" width="5" height="5" fill="#000"/>
<text transform="translate(554.5 190.6)" font-size="24.2" text-anchor="start" textLength="200.5" lengthAdjust="spacingAndGlyphs">1- 13<tspan style="font-family:'Liberation Serif',serif">μ</tspan>m, Current</text>
<text transform="translate(552 222.9)" font-size="24.2" text-anchor="start" textLength="204.5" lengthAdjust="spacingAndGlyphs">2- 13<tspan style="font-family:'Liberation Serif',serif">μ</tspan>m, Voltage</text>
<rect x="453" y="829.2" width="280" height="69.2" fill="#fff" stroke="#000" stroke-width="1.3"/>
<path d="M457 848.6H517" stroke="#f00" stroke-width="1.2"/><circle cx="486.6" cy="848.6" r="2.6" fill="#f00"/>
<path d="M457 881.6H517" stroke="#000" stroke-width="1.2"/><rect x="484.1" y="879.1" width="5" height="5" fill="#000"/>
<text transform="translate(524.3 856.8)" font-size="24.2" text-anchor="start" textLength="205" lengthAdjust="spacingAndGlyphs">3- 16<tspan style="font-family:'Liberation Serif',serif">μ</tspan>m, Current</text>
<text transform="translate(524.5 890.2)" font-size="24.2" text-anchor="start" textLength="205.5" lengthAdjust="spacingAndGlyphs">4- 16<tspan style="font-family:'Liberation Serif',serif">μ</tspan>m, Voltage</text>
</svg>
</body></html>
